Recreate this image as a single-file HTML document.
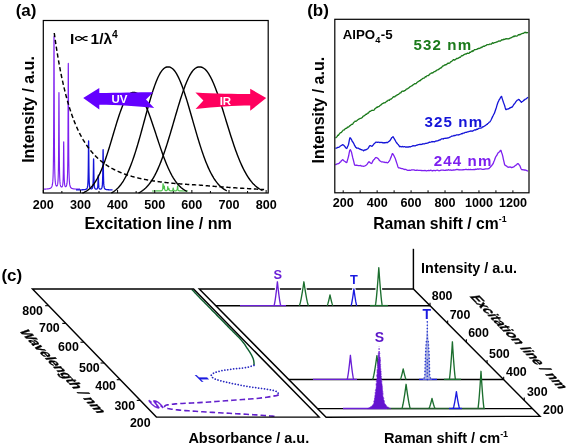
<!DOCTYPE html>
<html><head><meta charset="utf-8"><style>
html,body{margin:0;padding:0;background:#fff;width:567px;height:447px;overflow:hidden}
svg{display:block}
text{font-family:'Liberation Sans',Arial,sans-serif;font-weight:bold}
</style></head><body>
<svg width="567" height="447" viewBox="0 0 567 447"><path d="M43.80,189.13 L43.83,189.13 L43.85,189.12 L43.88,189.12 L43.90,189.12 L43.93,189.12 L43.96,189.12 L43.98,189.12 L44.01,189.12 L44.03,189.12 L44.06,189.12 L44.08,189.12 L44.11,189.12 L44.14,189.12 L44.16,189.12 L44.19,189.11 L44.21,189.11 L44.24,189.11 L44.27,189.11 L44.29,189.11 L44.32,189.11 L44.34,189.11 L44.37,189.11 L44.39,189.11 L44.42,189.11 L44.45,189.11 L44.47,189.10 L44.50,189.10 L44.52,189.10 L44.55,189.10 L44.58,189.10 L44.60,189.10 L44.63,189.10 L44.65,189.10 L44.68,189.10 L44.70,189.10 L44.73,189.10 L44.76,189.09 L44.78,189.09 L44.81,189.09 L44.83,189.09 L44.86,189.09 L44.89,189.09 L44.91,189.09 L44.94,189.09 L44.96,189.09 L44.99,189.09 L45.02,189.08 L45.04,189.08 L45.07,189.08 L45.09,189.08 L45.12,189.08 L45.14,189.08 L45.17,189.08 L45.20,189.08 L45.22,189.08 L45.25,189.07 L45.27,189.07 L45.30,189.07 L45.33,189.07 L45.35,189.07 L45.38,189.07 L45.40,189.07 L45.43,189.07 L45.45,189.06 L45.48,189.06 L45.51,189.06 L45.53,189.06 L45.56,189.06 L45.58,189.06 L45.61,189.06 L45.64,189.06 L45.66,189.05 L45.69,189.05 L45.71,189.05 L45.74,189.05 L45.77,189.05 L45.79,189.05 L45.82,189.05 L45.84,189.05 L45.87,189.04 L45.89,189.04 L45.92,189.04 L45.95,189.04 L45.97,189.04 L46.00,189.04 L46.02,189.04 L46.05,189.03 L46.08,189.03 L46.10,189.03 L46.13,189.03 L46.15,189.03 L46.18,189.03 L46.20,189.02 L46.23,189.02 L46.26,189.02 L46.28,189.02 L46.31,189.02 L46.33,189.02 L46.36,189.01 L46.39,189.01 L46.41,189.01 L46.44,189.01 L46.46,189.01 L46.49,189.01 L46.52,189.00 L46.54,189.00 L46.57,189.00 L46.59,189.00 L46.62,189.00 L46.64,189.00 L46.67,188.99 L46.70,188.99 L46.72,188.99 L46.75,188.99 L46.77,188.99 L46.80,188.98 L46.83,188.98 L46.85,188.98 L46.88,188.98 L46.90,188.98 L46.93,188.97 L46.95,188.97 L46.98,188.97 L47.01,188.97 L47.03,188.97 L47.06,188.96 L47.08,188.96 L47.11,188.96 L47.14,188.96 L47.16,188.95 L47.19,188.95 L47.21,188.95 L47.24,188.95 L47.26,188.95 L47.29,188.94 L47.32,188.94 L47.34,188.94 L47.37,188.94 L47.39,188.93 L47.42,188.93 L47.45,188.93 L47.47,188.93 L47.50,188.92 L47.52,188.92 L47.55,188.92 L47.58,188.91 L47.60,188.91 L47.63,188.91 L47.65,188.91 L47.68,188.90 L47.70,188.90 L47.73,188.90 L47.76,188.90 L47.78,188.89 L47.81,188.89 L47.83,188.89 L47.86,188.88 L47.89,188.88 L47.91,188.88 L47.94,188.87 L47.96,188.87 L47.99,188.87 L48.01,188.86 L48.04,188.86 L48.07,188.86 L48.09,188.85 L48.12,188.85 L48.14,188.85 L48.17,188.84 L48.20,188.84 L48.22,188.84 L48.25,188.83 L48.27,188.83 L48.30,188.83 L48.32,188.82 L48.35,188.82 L48.38,188.81 L48.40,188.81 L48.43,188.81 L48.45,188.80 L48.48,188.80 L48.51,188.79 L48.53,188.79 L48.56,188.79 L48.58,188.78 L48.61,188.78 L48.64,188.77 L48.66,188.77 L48.69,188.76 L48.71,188.76 L48.74,188.75 L48.76,188.75 L48.79,188.74 L48.82,188.74 L48.84,188.73 L48.87,188.73 L48.89,188.72 L48.92,188.72 L48.95,188.71 L48.97,188.71 L49.00,188.70 L49.02,188.70 L49.05,188.69 L49.07,188.69 L49.10,188.68 L49.13,188.67 L49.15,188.67 L49.18,188.66 L49.20,188.66 L49.23,188.65 L49.26,188.64 L49.28,188.64 L49.31,188.63 L49.33,188.62 L49.36,188.62 L49.39,188.61 L49.41,188.60 L49.44,188.60 L49.46,188.59 L49.49,188.58 L49.51,188.58 L49.54,188.57 L49.57,188.56 L49.59,188.55 L49.62,188.54 L49.64,188.54 L49.67,188.53 L49.70,188.52 L49.72,188.51 L49.75,188.50 L49.77,188.49 L49.80,188.49 L49.82,188.48 L49.85,188.47 L49.88,188.46 L49.90,188.45 L49.93,188.44 L49.95,188.43 L49.98,188.42 L50.01,188.41 L50.03,188.40 L50.06,188.39 L50.08,188.38 L50.11,188.37 L50.13,188.35 L50.16,188.34 L50.19,188.33 L50.21,188.32 L50.24,188.31 L50.26,188.30 L50.29,188.28 L50.32,188.27 L50.34,188.26 L50.37,188.24 L50.39,188.23 L50.42,188.22 L50.45,188.20 L50.47,188.19 L50.50,188.17 L50.52,188.16 L50.55,188.14 L50.57,188.12 L50.60,188.11 L50.63,188.09 L50.65,188.08 L50.68,188.06 L50.70,188.04 L50.73,188.02 L50.76,188.00 L50.78,187.98 L50.81,187.96 L50.83,187.94 L50.86,187.92 L50.88,187.90 L50.91,187.88 L50.94,187.86 L50.96,187.84 L50.99,187.81 L51.01,187.79 L51.04,187.77 L51.07,187.74 L51.09,187.72 L51.12,187.69 L51.14,187.66 L51.17,187.64 L51.20,187.61 L51.22,187.58 L51.25,187.55 L51.27,187.52 L51.30,187.49 L51.32,187.46 L51.35,187.42 L51.38,187.39 L51.40,187.35 L51.43,187.32 L51.45,187.28 L51.48,187.24 L51.51,187.20 L51.53,187.16 L51.56,187.12 L51.58,187.08 L51.61,187.03 L51.63,186.98 L51.66,186.94 L51.69,186.89 L51.71,186.84 L51.74,186.78 L51.76,186.73 L51.79,186.67 L51.82,186.62 L51.84,186.56 L51.87,186.49 L51.89,186.43 L51.92,186.36 L51.94,186.30 L51.97,186.22 L52.00,186.15 L52.02,186.07 L52.05,185.99 L52.07,185.91 L52.10,185.82 L52.13,185.73 L52.15,185.64 L52.18,185.54 L52.20,185.44 L52.23,185.33 L52.26,185.22 L52.28,185.11 L52.31,184.99 L52.33,184.86 L52.36,184.73 L52.38,184.60 L52.41,184.45 L52.44,184.30 L52.46,184.14 L52.49,183.98 L52.51,183.81 L52.54,183.62 L52.57,183.43 L52.59,183.23 L52.62,183.02 L52.64,182.79 L52.67,182.56 L52.69,182.31 L52.72,182.04 L52.75,181.76 L52.77,181.47 L52.80,181.15 L52.82,180.82 L52.85,180.46 L52.88,180.09 L52.90,179.68 L52.93,179.26 L52.95,178.80 L52.98,178.31 L53.01,177.78 L53.03,177.22 L53.06,176.62 L53.08,175.97 L53.11,175.27 L53.13,174.51 L53.16,173.69 L53.19,172.81 L53.21,171.84 L53.24,170.80 L53.26,169.66 L53.29,168.42 L53.32,167.06 L53.34,165.57 L53.37,163.93 L53.39,162.13 L53.42,160.15 L53.44,157.96 L53.47,155.53 L53.50,152.84 L53.52,149.84 L53.55,146.51 L53.57,142.80 L53.60,138.67 L53.63,134.05 L53.65,128.92 L53.68,123.20 L53.70,116.88 L53.73,109.90 L53.75,102.28 L53.78,94.05 L53.81,85.31 L53.83,76.23 L53.86,67.08 L53.88,58.24 L53.91,50.21 L53.94,43.51 L53.96,38.70 L53.99,36.20 L54.01,36.26 L54.04,38.88 L54.07,43.79 L54.09,50.55 L54.12,58.63 L54.14,67.49 L54.17,76.64 L54.19,85.70 L54.22,94.42 L54.25,102.61 L54.27,110.19 L54.30,117.12 L54.32,123.41 L54.35,129.09 L54.38,134.19 L54.40,138.77 L54.43,142.88 L54.45,146.56 L54.48,149.87 L54.50,152.83 L54.53,155.51 L54.56,157.91 L54.58,160.09 L54.61,162.06 L54.63,163.84 L54.66,165.46 L54.69,166.93 L54.71,168.28 L54.74,169.51 L54.76,170.63 L54.79,171.67 L54.82,172.61 L54.84,173.49 L54.87,174.29 L54.89,175.04 L54.92,175.73 L54.94,176.37 L54.97,176.96 L55.00,177.51 L55.02,178.03 L55.05,178.51 L55.07,178.95 L55.10,179.37 L55.13,179.76 L55.15,180.13 L55.18,180.47 L55.20,180.80 L55.23,181.10 L55.25,181.39 L55.28,181.65 L55.31,181.91 L55.33,182.15 L55.36,182.37 L55.38,182.58 L55.41,182.79 L55.44,182.98 L55.46,183.16 L55.49,183.33 L55.51,183.49 L55.54,183.64 L55.56,183.79 L55.59,183.92 L55.62,184.06 L55.64,184.18 L55.67,184.30 L55.69,184.41 L55.72,184.52 L55.75,184.62 L55.77,184.71 L55.80,184.80 L55.82,184.89 L55.85,184.97 L55.88,185.05 L55.90,185.13 L55.93,185.20 L55.95,185.26 L55.98,185.33 L56.00,185.39 L56.03,185.44 L56.06,185.50 L56.08,185.55 L56.11,185.60 L56.13,185.64 L56.16,185.68 L56.19,185.72 L56.21,185.76 L56.24,185.80 L56.26,185.83 L56.29,185.86 L56.31,185.89 L56.34,185.91 L56.37,185.94 L56.39,185.96 L56.42,185.98 L56.44,186.00 L56.47,186.01 L56.50,186.02 L56.52,186.04 L56.55,186.05 L56.57,186.05 L56.60,186.06 L56.63,186.06 L56.65,186.06 L56.68,186.06 L56.70,186.06 L56.73,186.06 L56.75,186.05 L56.78,186.04 L56.81,186.03 L56.83,186.02 L56.86,186.00 L56.88,185.99 L56.91,185.97 L56.94,185.95 L56.96,185.92 L56.99,185.90 L57.01,185.87 L57.04,185.84 L57.06,185.80 L57.09,185.77 L57.12,185.73 L57.14,185.68 L57.17,185.64 L57.19,185.59 L57.22,185.54 L57.25,185.48 L57.27,185.42 L57.30,185.36 L57.32,185.29 L57.35,185.22 L57.38,185.14 L57.40,185.06 L57.43,184.97 L57.45,184.88 L57.48,184.79 L57.50,184.68 L57.53,184.57 L57.56,184.46 L57.58,184.33 L57.61,184.20 L57.63,184.06 L57.66,183.91 L57.69,183.75 L57.71,183.58 L57.74,183.40 L57.76,183.21 L57.79,183.01 L57.81,182.79 L57.84,182.55 L57.87,182.30 L57.89,182.03 L57.92,181.75 L57.94,181.44 L57.97,181.11 L58.00,180.75 L58.02,180.36 L58.05,179.95 L58.07,179.50 L58.10,179.01 L58.12,178.48 L58.15,177.91 L58.18,177.29 L58.20,176.61 L58.23,175.87 L58.25,175.06 L58.28,174.17 L58.31,173.19 L58.33,172.12 L58.36,170.93 L58.38,169.62 L58.41,168.18 L58.44,166.57 L58.46,164.79 L58.49,162.80 L58.51,160.59 L58.54,158.12 L58.56,155.37 L58.59,152.31 L58.62,148.89 L58.64,145.10 L58.67,140.92 L58.69,136.32 L58.72,131.33 L58.75,125.99 L58.77,120.38 L58.80,114.64 L58.82,108.99 L58.85,103.70 L58.87,99.10 L58.90,95.53 L58.93,93.31 L58.95,92.64 L58.98,93.60 L59.00,96.08 L59.03,99.86 L59.06,104.61 L59.08,110.00 L59.11,115.69 L59.13,121.42 L59.16,127.00 L59.18,132.29 L59.21,137.22 L59.24,141.75 L59.26,145.87 L59.29,149.59 L59.31,152.95 L59.34,155.96 L59.37,158.67 L59.39,161.09 L59.42,163.27 L59.44,165.22 L59.47,166.98 L59.50,168.56 L59.52,169.99 L59.55,171.28 L59.57,172.45 L59.60,173.51 L59.62,174.48 L59.65,175.36 L59.68,176.16 L59.70,176.90 L59.73,177.57 L59.75,178.19 L59.78,178.76 L59.81,179.29 L59.83,179.78 L59.86,180.23 L59.88,180.64 L59.91,181.03 L59.93,181.39 L59.96,181.73 L59.99,182.04 L60.01,182.33 L60.04,182.60 L60.06,182.86 L60.09,183.10 L60.12,183.32 L60.14,183.53 L60.17,183.73 L60.19,183.91 L60.22,184.09 L60.25,184.26 L60.27,184.41 L60.30,184.56 L60.32,184.70 L60.35,184.83 L60.37,184.95 L60.40,185.07 L60.43,185.18 L60.45,185.29 L60.48,185.39 L60.50,185.48 L60.53,185.57 L60.56,185.66 L60.58,185.74 L60.61,185.82 L60.63,185.89 L60.66,185.96 L60.68,186.03 L60.71,186.09 L60.74,186.15 L60.76,186.21 L60.79,186.26 L60.81,186.32 L60.84,186.36 L60.87,186.41 L60.89,186.46 L60.92,186.50 L60.94,186.54 L60.97,186.58 L61.00,186.61 L61.02,186.65 L61.05,186.68 L61.07,186.71 L61.10,186.74 L61.12,186.76 L61.15,186.79 L61.18,186.81 L61.20,186.84 L61.23,186.86 L61.25,186.88 L61.28,186.89 L61.31,186.91 L61.33,186.92 L61.36,186.94 L61.38,186.95 L61.41,186.96 L61.43,186.97 L61.46,186.98 L61.49,186.99 L61.51,186.99 L61.54,187.00 L61.56,187.00 L61.59,187.00 L61.62,187.00 L61.64,187.00 L61.67,187.00 L61.69,186.99 L61.72,186.99 L61.74,186.98 L61.77,186.97 L61.80,186.96 L61.82,186.95 L61.85,186.94 L61.87,186.93 L61.90,186.91 L61.93,186.89 L61.95,186.87 L61.98,186.85 L62.00,186.83 L62.03,186.80 L62.06,186.78 L62.08,186.75 L62.11,186.72 L62.13,186.68 L62.16,186.65 L62.18,186.61 L62.21,186.56 L62.24,186.52 L62.26,186.47 L62.29,186.42 L62.31,186.37 L62.34,186.31 L62.37,186.24 L62.39,186.18 L62.42,186.11 L62.44,186.03 L62.47,185.95 L62.49,185.86 L62.52,185.77 L62.55,185.67 L62.57,185.56 L62.60,185.45 L62.62,185.32 L62.65,185.19 L62.68,185.05 L62.70,184.90 L62.73,184.74 L62.75,184.56 L62.78,184.37 L62.80,184.16 L62.83,183.94 L62.86,183.70 L62.88,183.44 L62.91,183.15 L62.93,182.84 L62.96,182.50 L62.99,182.13 L63.01,181.73 L63.04,181.28 L63.06,180.80 L63.09,180.26 L63.12,179.67 L63.14,179.01 L63.17,178.28 L63.19,177.48 L63.22,176.58 L63.24,175.59 L63.27,174.48 L63.30,173.24 L63.32,171.86 L63.35,170.32 L63.37,168.60 L63.40,166.70 L63.43,164.61 L63.45,162.32 L63.48,159.84 L63.50,157.19 L63.53,154.44 L63.55,151.65 L63.58,148.94 L63.61,146.45 L63.63,144.34 L63.66,142.79 L63.68,141.93 L63.71,141.84 L63.74,142.53 L63.76,143.93 L63.79,145.92 L63.81,148.34 L63.84,151.01 L63.87,153.79 L63.89,156.56 L63.92,159.24 L63.94,161.75 L63.97,164.09 L63.99,166.23 L64.02,168.17 L64.05,169.92 L64.07,171.49 L64.10,172.91 L64.12,174.18 L64.15,175.31 L64.18,176.33 L64.20,177.25 L64.23,178.07 L64.25,178.81 L64.28,179.48 L64.30,180.08 L64.33,180.63 L64.36,181.13 L64.38,181.58 L64.41,181.99 L64.43,182.36 L64.46,182.71 L64.49,183.02 L64.51,183.31 L64.54,183.57 L64.56,183.82 L64.59,184.04 L64.61,184.25 L64.64,184.44 L64.67,184.62 L64.69,184.78 L64.72,184.93 L64.74,185.07 L64.77,185.20 L64.80,185.32 L64.82,185.44 L64.85,185.54 L64.87,185.64 L64.90,185.73 L64.93,185.82 L64.95,185.90 L64.98,185.97 L65.00,186.04 L65.03,186.10 L65.05,186.16 L65.08,186.22 L65.11,186.27 L65.13,186.32 L65.16,186.36 L65.18,186.40 L65.21,186.44 L65.24,186.47 L65.26,186.51 L65.29,186.54 L65.31,186.56 L65.34,186.59 L65.36,186.61 L65.39,186.63 L65.42,186.65 L65.44,186.66 L65.47,186.67 L65.49,186.69 L65.52,186.69 L65.55,186.70 L65.57,186.71 L65.60,186.71 L65.62,186.71 L65.65,186.71 L65.68,186.71 L65.70,186.71 L65.73,186.70 L65.75,186.70 L65.78,186.69 L65.80,186.68 L65.83,186.67 L65.86,186.65 L65.88,186.64 L65.91,186.62 L65.93,186.60 L65.96,186.58 L65.99,186.56 L66.01,186.54 L66.04,186.51 L66.06,186.48 L66.09,186.45 L66.11,186.42 L66.14,186.39 L66.17,186.35 L66.19,186.31 L66.22,186.27 L66.24,186.23 L66.27,186.19 L66.30,186.14 L66.32,186.09 L66.35,186.03 L66.37,185.98 L66.40,185.92 L66.42,185.86 L66.45,185.79 L66.48,185.72 L66.50,185.65 L66.53,185.57 L66.55,185.49 L66.58,185.41 L66.61,185.32 L66.63,185.23 L66.66,185.13 L66.68,185.03 L66.71,184.92 L66.74,184.81 L66.76,184.69 L66.79,184.56 L66.81,184.42 L66.84,184.28 L66.86,184.13 L66.89,183.98 L66.92,183.81 L66.94,183.63 L66.97,183.45 L66.99,183.25 L67.02,183.04 L67.05,182.82 L67.07,182.59 L67.10,182.33 L67.12,182.07 L67.15,181.79 L67.17,181.48 L67.20,181.16 L67.23,180.82 L67.25,180.45 L67.28,180.05 L67.30,179.63 L67.33,179.17 L67.36,178.68 L67.38,178.16 L67.41,177.59 L67.43,176.98 L67.46,176.31 L67.49,175.59 L67.51,174.81 L67.54,173.96 L67.56,173.03 L67.59,172.02 L67.61,170.91 L67.64,169.70 L67.67,168.37 L67.69,166.90 L67.72,165.28 L67.74,163.49 L67.77,161.51 L67.80,159.31 L67.82,156.86 L67.85,154.14 L67.87,151.11 L67.90,147.73 L67.92,143.96 L67.95,139.75 L67.98,135.08 L68.00,129.90 L68.03,124.20 L68.05,117.96 L68.08,111.22 L68.11,104.05 L68.13,96.59 L68.16,89.07 L68.18,81.79 L68.21,75.16 L68.23,69.61 L68.26,65.59 L68.29,63.46 L68.31,63.44 L68.34,65.51 L68.36,69.49 L68.39,75.01 L68.42,81.62 L68.44,88.89 L68.47,96.42 L68.49,103.88 L68.52,111.07 L68.55,117.83 L68.57,124.09 L68.60,129.81 L68.62,135.01 L68.65,139.70 L68.67,143.92 L68.70,147.71 L68.73,151.11 L68.75,154.15 L68.78,156.89 L68.80,159.35 L68.83,161.56 L68.86,163.55 L68.88,165.35 L68.91,166.98 L68.93,168.46 L68.96,169.80 L68.98,171.03 L69.01,172.14 L69.04,173.16 L69.06,174.10 L69.09,174.95 L69.11,175.74 L69.14,176.47 L69.17,177.14 L69.19,177.77 L69.22,178.34 L69.24,178.87 L69.27,179.37 L69.30,179.83 L69.32,180.26 L69.35,180.67 L69.37,181.04 L69.40,181.39 L69.42,181.72 L69.45,182.03 L69.48,182.33 L69.50,182.60 L69.53,182.86 L69.55,183.10 L69.58,183.33 L69.61,183.55 L69.63,183.75 L69.66,183.95 L69.68,184.13 L69.71,184.31 L69.73,184.47 L69.76,184.63 L69.79,184.78 L69.81,184.92 L69.84,185.06 L69.86,185.19 L69.89,185.31 L69.92,185.43 L69.94,185.54 L69.97,185.65 L69.99,185.75 L70.02,185.85 L70.05,185.94 L70.07,186.03 L70.10,186.12 L70.12,186.20 L70.15,186.28 L70.17,186.36 L70.20,186.44 L70.23,186.51 L70.25,186.57 L70.28,186.64 L70.30,186.70 L70.33,186.76 L70.36,186.82 L70.38,186.88 L70.41,186.93 L70.43,186.99 L70.46,187.04 L70.48,187.09 L70.51,187.13 L70.54,187.18 L70.56,187.22 L70.59,187.27 L70.61,187.31 L70.64,187.35 L70.67,187.39 L70.69,187.43 L70.72,187.46 L70.74,187.50 L70.77,187.53 L70.79,187.57 L70.82,187.60 L70.85,187.63 L70.87,187.66 L70.90,187.69 L70.92,187.72 L70.95,187.75 L70.98,187.78 L71.00,187.80 L71.03,187.83 L71.05,187.85 L71.08,187.88 L71.11,187.90 L71.13,187.92 L71.16,187.95 L71.18,187.97 L71.21,187.99 L71.23,188.01 L71.26,188.03 L71.29,188.05 L71.31,188.07 L71.34,188.09 L71.36,188.11 L71.39,188.13 L71.42,188.14 L71.44,188.16 L71.47,188.18 L71.49,188.19 L71.52,188.21 L71.54,188.22 L71.57,188.24 L71.60,188.25 L71.62,188.27 L71.65,188.28 L71.67,188.30 L71.70,188.31 L71.73,188.32 L71.75,188.34 L71.78,188.35 L71.80,188.36 L71.83,188.37 L71.85,188.39 L71.88,188.40 L71.91,188.41 L71.93,188.42 L71.96,188.43 L71.98,188.44 L72.01,188.45 L72.04,188.46 L72.06,188.47 L72.09,188.48 L72.11,188.49 L72.14,188.50 L72.17,188.51 L72.19,188.52 L72.22,188.53 L72.24,188.54 L72.27,188.55 L72.29,188.56 L72.32,188.57 L72.35,188.57 L72.37,188.58 L72.40,188.59 L72.42,188.60 L72.45,188.61 L72.48,188.61 L72.50,188.62 L72.53,188.63 L72.55,188.64 L72.58,188.64 L72.60,188.65 L72.63,188.66 L72.66,188.66 L72.68,188.67 L72.71,188.68 L72.73,188.68 L72.76,188.69 L72.79,188.69 L72.81,188.70 L72.84,188.71 L72.86,188.71 L72.89,188.72 L72.92,188.72 L72.94,188.73 L72.97,188.73 L72.99,188.74 L73.02,188.75 L73.04,188.75 L73.07,188.76 L73.10,188.76 L73.12,188.77 L73.15,188.77 L73.17,188.78 L73.20,188.78 L73.23,188.79 L73.25,188.79 L73.28,188.79 L73.30,188.80 L73.33,188.80 L73.35,188.81 L73.38,188.81 L73.41,188.82 L73.43,188.82 L73.46,188.82 L73.48,188.83 L73.51,188.83 L73.54,188.84 L73.56,188.84 L73.59,188.84 L73.61,188.85 L73.64,188.85 L73.66,188.86 L73.69,188.86 L73.72,188.86 L73.74,188.87 L73.77,188.87 L73.79,188.87 L73.82,188.88 L73.85,188.88 L73.87,188.88 L73.90,188.89 L73.92,188.89 L73.95,188.89 L73.98,188.90 L74.00,188.90 L74.03,188.90 L74.05,188.91 L74.08,188.91 L74.10,188.91 L74.13,188.91 L74.16,188.92 L74.18,188.92 L74.21,188.92 L74.23,188.93 L74.26,188.93 L74.29,188.93 L74.31,188.93 L74.34,188.94 L74.36,188.94 L74.39,188.94 L74.41,188.94 L74.44,188.95 L74.47,188.95 L74.49,188.95 L74.52,188.95 L74.54,188.96 L74.57,188.96 L74.60,188.96 L74.62,188.96 L74.65,188.97 L74.67,188.97 L74.70,188.97 L74.73,188.97 L74.75,188.98 L74.78,188.98 L74.80,188.98 L74.83,188.98 L74.85,188.98 L74.88,188.99 L74.91,188.99 L74.93,188.99 L74.96,188.99 L74.98,188.99 L75.01,189.00 L75.04,189.00 L75.06,189.00 L75.09,189.00 L75.11,189.00 L75.14,189.01 L75.16,189.01 L75.19,189.01 L75.22,189.01 L75.24,189.01 L75.27,189.02 L75.29,189.02 L75.32,189.02 L75.35,189.02 L75.37,189.02 L75.40,189.02 L75.42,189.03 L75.45,189.03 L75.47,189.03 L75.50,189.03 L75.53,189.03 L75.55,189.03 L75.58,189.04 L75.60,189.04 L75.63,189.04 L75.66,189.04 L75.68,189.04 L75.71,189.04 L75.73,189.04 L75.76,189.05 L75.79,189.05 L75.81,189.05 L75.84,189.05 L75.86,189.05 L75.89,189.05 L75.91,189.05 L75.94,189.06 L75.97,189.06 L75.99,189.06 L76.02,189.06 L76.04,189.06 L76.07,189.06 L76.10,189.06 L76.12,189.07 L76.15,189.07 L76.17,189.07 L76.20,189.07 L76.22,189.07 L76.25,189.07 L76.28,189.07 L76.30,189.07 L76.33,189.08 L76.35,189.08 L76.38,189.08 L76.41,189.08 L76.43,189.08 L76.46,189.08 L76.48,189.08 L76.51,189.08 L76.54,189.08 L76.56,189.09 L76.59,189.09 L76.61,189.09 L76.64,189.09 L76.66,189.09 L76.69,189.09 L76.72,189.09 L76.74,189.09 L76.77,189.09 L76.79,189.10 L76.82,189.10 L76.85,189.10 L76.87,189.10 L76.90,189.10 L76.92,189.10 L76.95,189.10 L76.97,189.10 L77.00,189.10 L77.03,189.10 L77.05,189.11 L77.08,189.11 L77.10,189.11 L77.13,189.11 L77.16,189.11 L77.18,189.11 L77.21,189.11 L77.23,189.11 L77.26,189.11 L77.28,189.11 L77.31,189.11 L77.34,189.12 L77.36,189.12 L77.39,189.12 L77.41,189.12 L77.44,189.12 L77.47,189.12 L77.49,189.12 L77.52,189.12 L77.54,189.12 L77.57,189.12 L77.60,189.12 L77.62,189.12 L77.65,189.13 L77.67,189.13 L77.70,189.13 L77.72,189.13 L77.75,189.13 L77.78,189.13 L77.80,189.13 L77.83,189.13 L77.85,189.13 L77.88,189.13 L77.91,189.13 L77.93,189.13 L77.96,189.13 L77.98,189.14 L78.01,189.14 L78.03,189.14 L78.06,189.14 L78.09,189.14 L78.11,189.14 L78.14,189.14 L78.16,189.14 L78.19,189.14 L78.22,189.14 L78.24,189.14 L78.27,189.14 L78.29,189.14 L78.32,189.14 L78.35,189.15 L78.37,189.15 L78.40,189.15 L78.42,189.15 L78.45,189.15 L78.47,189.15 L78.50,189.15 L78.53,189.15 L78.55,189.15 L78.58,189.15 L78.60,189.15 L78.63,189.15 L78.66,189.15 L78.68,189.15 L78.71,189.15 L78.73,189.15 L78.76,189.16 L78.78,189.16 L78.81,189.16 L78.84,189.16 L78.86,189.16 L78.89,189.16 L78.91,189.16 L78.94,189.16 L78.97,189.16 L78.99,189.16 L79.02,189.16 L79.04,189.16 L79.07,189.16 L79.09,189.16 L79.12,189.16 L79.15,189.16 L79.17,189.16 L79.20,189.16 L79.22,189.17 L79.25,189.17 L79.28,189.17 L79.30,189.17 L79.33,189.17 L79.35,189.17 L79.38,189.17 L79.41,189.17 L79.43,189.17 L79.46,189.17 L79.48,189.17 L79.51,189.17 L79.53,189.17 L79.56,189.17 L79.59,189.17 L79.61,189.17 L79.64,189.17 L79.66,189.17 L79.69,189.17 L79.72,189.17 L79.74,189.18 L79.77,189.18 L79.79,189.18 L79.82,189.18 L79.84,189.18 L79.87,189.18 L79.90,189.18 L79.92,189.18 L79.95,189.18 L79.97,189.18 L80.00,189.18" fill="none" stroke="#7d1fef" stroke-width="1.15" stroke-linejoin="round"/>
<path d="M76.00,189.86 L76.03,189.86 L76.07,189.86 L76.10,189.86 L76.13,189.86 L76.17,189.86 L76.20,189.86 L76.23,189.86 L76.27,189.86 L76.30,189.86 L76.33,189.86 L76.36,189.86 L76.40,189.86 L76.43,189.86 L76.46,189.86 L76.50,189.86 L76.53,189.86 L76.56,189.86 L76.60,189.86 L76.63,189.86 L76.66,189.86 L76.70,189.86 L76.73,189.86 L76.76,189.86 L76.80,189.86 L76.83,189.86 L76.86,189.86 L76.90,189.86 L76.93,189.86 L76.96,189.86 L77.00,189.86 L77.03,189.86 L77.06,189.86 L77.09,189.85 L77.13,189.85 L77.16,189.85 L77.19,189.85 L77.23,189.85 L77.26,189.85 L77.29,189.85 L77.33,189.85 L77.36,189.85 L77.39,189.85 L77.43,189.85 L77.46,189.85 L77.49,189.85 L77.53,189.85 L77.56,189.85 L77.59,189.85 L77.63,189.85 L77.66,189.85 L77.69,189.85 L77.73,189.85 L77.76,189.85 L77.79,189.85 L77.83,189.85 L77.86,189.85 L77.89,189.85 L77.92,189.85 L77.96,189.85 L77.99,189.85 L78.02,189.85 L78.06,189.85 L78.09,189.85 L78.12,189.85 L78.16,189.85 L78.19,189.85 L78.22,189.85 L78.26,189.85 L78.29,189.85 L78.32,189.85 L78.36,189.85 L78.39,189.84 L78.42,189.84 L78.46,189.84 L78.49,189.84 L78.52,189.84 L78.56,189.84 L78.59,189.84 L78.62,189.84 L78.65,189.84 L78.69,189.84 L78.72,189.84 L78.75,189.84 L78.79,189.84 L78.82,189.84 L78.85,189.84 L78.89,189.84 L78.92,189.84 L78.95,189.84 L78.99,189.84 L79.02,189.84 L79.05,189.84 L79.09,189.84 L79.12,189.84 L79.15,189.84 L79.19,189.84 L79.22,189.84 L79.25,189.84 L79.28,189.84 L79.32,189.83 L79.35,189.83 L79.38,189.83 L79.42,189.83 L79.45,189.83 L79.48,189.83 L79.52,189.83 L79.55,189.83 L79.58,189.83 L79.62,189.83 L79.65,189.83 L79.68,189.83 L79.72,189.83 L79.75,189.83 L79.78,189.83 L79.82,189.83 L79.85,189.83 L79.88,189.83 L79.92,189.83 L79.95,189.83 L79.98,189.83 L80.02,189.83 L80.05,189.83 L80.08,189.82 L80.11,189.82 L80.15,189.82 L80.18,189.82 L80.21,189.82 L80.25,189.82 L80.28,189.82 L80.31,189.82 L80.35,189.82 L80.38,189.82 L80.41,189.82 L80.45,189.82 L80.48,189.82 L80.51,189.82 L80.55,189.82 L80.58,189.82 L80.61,189.82 L80.65,189.82 L80.68,189.81 L80.71,189.81 L80.75,189.81 L80.78,189.81 L80.81,189.81 L80.84,189.81 L80.88,189.81 L80.91,189.81 L80.94,189.81 L80.98,189.81 L81.01,189.81 L81.04,189.81 L81.08,189.81 L81.11,189.81 L81.14,189.81 L81.18,189.80 L81.21,189.80 L81.24,189.80 L81.28,189.80 L81.31,189.80 L81.34,189.80 L81.38,189.80 L81.41,189.80 L81.44,189.80 L81.47,189.80 L81.51,189.80 L81.54,189.80 L81.57,189.79 L81.61,189.79 L81.64,189.79 L81.67,189.79 L81.71,189.79 L81.74,189.79 L81.77,189.79 L81.81,189.79 L81.84,189.79 L81.87,189.79 L81.91,189.79 L81.94,189.78 L81.97,189.78 L82.01,189.78 L82.04,189.78 L82.07,189.78 L82.11,189.78 L82.14,189.78 L82.17,189.78 L82.20,189.78 L82.24,189.78 L82.27,189.77 L82.30,189.77 L82.34,189.77 L82.37,189.77 L82.40,189.77 L82.44,189.77 L82.47,189.77 L82.50,189.77 L82.54,189.76 L82.57,189.76 L82.60,189.76 L82.64,189.76 L82.67,189.76 L82.70,189.76 L82.74,189.76 L82.77,189.75 L82.80,189.75 L82.84,189.75 L82.87,189.75 L82.90,189.75 L82.94,189.75 L82.97,189.75 L83.00,189.74 L83.03,189.74 L83.07,189.74 L83.10,189.74 L83.13,189.74 L83.17,189.74 L83.20,189.73 L83.23,189.73 L83.27,189.73 L83.30,189.73 L83.33,189.73 L83.37,189.72 L83.40,189.72 L83.43,189.72 L83.47,189.72 L83.50,189.72 L83.53,189.71 L83.57,189.71 L83.60,189.71 L83.63,189.71 L83.67,189.70 L83.70,189.70 L83.73,189.70 L83.76,189.70 L83.80,189.70 L83.83,189.69 L83.86,189.69 L83.90,189.69 L83.93,189.68 L83.96,189.68 L84.00,189.68 L84.03,189.68 L84.06,189.67 L84.10,189.67 L84.13,189.67 L84.16,189.66 L84.20,189.66 L84.23,189.66 L84.26,189.65 L84.30,189.65 L84.33,189.65 L84.36,189.64 L84.39,189.64 L84.43,189.64 L84.46,189.63 L84.49,189.63 L84.53,189.63 L84.56,189.62 L84.59,189.62 L84.63,189.61 L84.66,189.61 L84.69,189.60 L84.73,189.60 L84.76,189.59 L84.79,189.59 L84.83,189.59 L84.86,189.58 L84.89,189.57 L84.93,189.57 L84.96,189.56 L84.99,189.56 L85.03,189.55 L85.06,189.55 L85.09,189.54 L85.12,189.53 L85.16,189.53 L85.19,189.52 L85.22,189.51 L85.26,189.51 L85.29,189.50 L85.32,189.49 L85.36,189.49 L85.39,189.48 L85.42,189.47 L85.46,189.46 L85.49,189.45 L85.52,189.44 L85.56,189.44 L85.59,189.43 L85.62,189.42 L85.66,189.41 L85.69,189.40 L85.72,189.38 L85.76,189.37 L85.79,189.36 L85.82,189.35 L85.86,189.34 L85.89,189.33 L85.92,189.31 L85.95,189.30 L85.99,189.28 L86.02,189.27 L86.05,189.25 L86.09,189.24 L86.12,189.22 L86.15,189.21 L86.19,189.19 L86.22,189.17 L86.25,189.15 L86.29,189.13 L86.32,189.11 L86.35,189.09 L86.39,189.06 L86.42,189.04 L86.45,189.02 L86.49,188.99 L86.52,188.96 L86.55,188.93 L86.59,188.90 L86.62,188.87 L86.65,188.84 L86.68,188.81 L86.72,188.77 L86.75,188.73 L86.78,188.69 L86.82,188.65 L86.85,188.61 L86.88,188.56 L86.92,188.51 L86.95,188.46 L86.98,188.40 L87.02,188.34 L87.05,188.28 L87.08,188.21 L87.12,188.14 L87.15,188.06 L87.18,187.98 L87.22,187.90 L87.25,187.81 L87.28,187.71 L87.31,187.60 L87.35,187.49 L87.38,187.36 L87.41,187.23 L87.45,187.09 L87.48,186.93 L87.51,186.76 L87.55,186.58 L87.58,186.38 L87.61,186.16 L87.65,185.92 L87.68,185.66 L87.71,185.37 L87.75,185.06 L87.78,184.70 L87.81,184.31 L87.85,183.88 L87.88,183.39 L87.91,182.85 L87.95,182.24 L87.98,181.55 L88.01,180.76 L88.05,179.88 L88.08,178.86 L88.11,177.71 L88.14,176.38 L88.18,174.86 L88.21,173.11 L88.24,171.10 L88.28,168.79 L88.31,166.16 L88.34,163.19 L88.38,159.88 L88.41,156.30 L88.44,152.56 L88.48,148.86 L88.51,145.50 L88.54,142.84 L88.58,141.24 L88.61,140.93 L88.64,141.96 L88.68,144.18 L88.71,147.27 L88.74,150.85 L88.78,154.60 L88.81,158.28 L88.84,161.71 L88.87,164.83 L88.91,167.61 L88.94,170.06 L88.97,172.20 L89.01,174.06 L89.04,175.68 L89.07,177.09 L89.11,178.32 L89.14,179.39 L89.17,180.33 L89.21,181.15 L89.24,181.88 L89.27,182.52 L89.31,183.09 L89.34,183.60 L89.37,184.05 L89.41,184.46 L89.44,184.83 L89.47,185.15 L89.50,185.45 L89.54,185.72 L89.57,185.97 L89.60,186.19 L89.64,186.40 L89.67,186.58 L89.70,186.75 L89.74,186.91 L89.77,187.06 L89.80,187.19 L89.84,187.31 L89.87,187.43 L89.90,187.53 L89.94,187.63 L89.97,187.72 L90.00,187.81 L90.04,187.88 L90.07,187.96 L90.10,188.03 L90.14,188.09 L90.17,188.15 L90.20,188.21 L90.23,188.26 L90.27,188.31 L90.30,188.35 L90.33,188.40 L90.37,188.44 L90.40,188.47 L90.43,188.51 L90.47,188.54 L90.50,188.57 L90.53,188.60 L90.57,188.63 L90.60,188.65 L90.63,188.68 L90.67,188.70 L90.70,188.72 L90.73,188.74 L90.77,188.76 L90.80,188.77 L90.83,188.79 L90.87,188.80 L90.90,188.81 L90.93,188.83 L90.97,188.84 L91.00,188.85 L91.03,188.85 L91.06,188.86 L91.10,188.87 L91.13,188.87 L91.16,188.88 L91.20,188.88 L91.23,188.88 L91.26,188.88 L91.30,188.88 L91.33,188.88 L91.36,188.88 L91.40,188.88 L91.43,188.87 L91.46,188.87 L91.50,188.86 L91.53,188.85 L91.56,188.85 L91.60,188.84 L91.63,188.83 L91.66,188.81 L91.69,188.80 L91.73,188.78 L91.76,188.77 L91.79,188.75 L91.83,188.73 L91.86,188.71 L91.89,188.69 L91.93,188.66 L91.96,188.63 L91.99,188.60 L92.03,188.57 L92.06,188.54 L92.09,188.50 L92.13,188.46 L92.16,188.42 L92.19,188.37 L92.23,188.32 L92.26,188.27 L92.29,188.21 L92.33,188.14 L92.36,188.07 L92.39,188.00 L92.42,187.92 L92.46,187.83 L92.49,187.73 L92.52,187.63 L92.56,187.51 L92.59,187.39 L92.62,187.25 L92.66,187.10 L92.69,186.93 L92.72,186.75 L92.76,186.54 L92.79,186.32 L92.82,186.07 L92.86,185.78 L92.89,185.47 L92.92,185.12 L92.96,184.72 L92.99,184.27 L93.02,183.76 L93.06,183.17 L93.09,182.51 L93.12,181.75 L93.16,180.88 L93.19,179.87 L93.22,178.72 L93.25,177.40 L93.29,175.88 L93.32,174.15 L93.35,172.21 L93.39,170.06 L93.42,167.76 L93.45,165.39 L93.49,163.10 L93.52,161.09 L93.55,159.60 L93.59,158.83 L93.62,158.91 L93.65,159.82 L93.69,161.42 L93.72,163.50 L93.75,165.82 L93.79,168.19 L93.82,170.47 L93.85,172.58 L93.89,174.49 L93.92,176.18 L93.95,177.67 L93.98,178.96 L94.02,180.09 L94.05,181.07 L94.08,181.92 L94.12,182.67 L94.15,183.32 L94.18,183.89 L94.22,184.39 L94.25,184.83 L94.28,185.23 L94.32,185.58 L94.35,185.89 L94.38,186.17 L94.42,186.41 L94.45,186.64 L94.48,186.84 L94.52,187.03 L94.55,187.19 L94.58,187.34 L94.61,187.48 L94.65,187.61 L94.68,187.72 L94.71,187.83 L94.75,187.93 L94.78,188.02 L94.81,188.10 L94.85,188.18 L94.88,188.25 L94.91,188.32 L94.95,188.38 L94.98,188.43 L95.01,188.49 L95.05,188.54 L95.08,188.58 L95.11,188.63 L95.15,188.67 L95.18,188.70 L95.21,188.74 L95.25,188.77 L95.28,188.80 L95.31,188.83 L95.34,188.86 L95.38,188.89 L95.41,188.91 L95.44,188.93 L95.48,188.95 L95.51,188.97 L95.54,188.99 L95.58,189.01 L95.61,189.02 L95.64,189.04 L95.68,189.05 L95.71,189.07 L95.74,189.08 L95.78,189.09 L95.81,189.10 L95.84,189.11 L95.88,189.12 L95.91,189.12 L95.94,189.13 L95.98,189.14 L96.01,189.14 L96.04,189.15 L96.08,189.15 L96.11,189.16 L96.14,189.16 L96.17,189.16 L96.21,189.16 L96.24,189.16 L96.27,189.16 L96.31,189.16 L96.34,189.16 L96.37,189.16 L96.41,189.15 L96.44,189.15 L96.47,189.15 L96.51,189.14 L96.54,189.13 L96.57,189.13 L96.61,189.12 L96.64,189.11 L96.67,189.10 L96.71,189.08 L96.74,189.07 L96.77,189.06 L96.81,189.04 L96.84,189.02 L96.87,189.01 L96.90,188.98 L96.94,188.96 L96.97,188.94 L97.00,188.91 L97.04,188.88 L97.07,188.85 L97.10,188.82 L97.14,188.78 L97.17,188.74 L97.20,188.69 L97.24,188.64 L97.27,188.59 L97.30,188.53 L97.34,188.46 L97.37,188.39 L97.40,188.31 L97.44,188.22 L97.47,188.12 L97.50,188.01 L97.53,187.89 L97.57,187.76 L97.60,187.61 L97.63,187.43 L97.67,187.24 L97.70,187.02 L97.73,186.77 L97.77,186.49 L97.80,186.16 L97.83,185.79 L97.87,185.36 L97.90,184.87 L97.93,184.31 L97.97,183.66 L98.00,182.92 L98.03,182.08 L98.07,181.14 L98.10,180.11 L98.13,179.02 L98.17,177.91 L98.20,176.88 L98.23,176.02 L98.27,175.43 L98.30,175.21 L98.33,175.39 L98.36,175.94 L98.40,176.78 L98.43,177.80 L98.46,178.89 L98.50,179.99 L98.53,181.03 L98.56,181.98 L98.60,182.83 L98.63,183.58 L98.66,184.24 L98.70,184.81 L98.73,185.31 L98.76,185.75 L98.80,186.12 L98.83,186.45 L98.86,186.74 L98.90,186.99 L98.93,187.21 L98.96,187.41 L99.00,187.58 L99.03,187.74 L99.06,187.88 L99.09,188.00 L99.13,188.11 L99.16,188.21 L99.19,188.30 L99.23,188.38 L99.26,188.45 L99.29,188.52 L99.33,188.58 L99.36,188.63 L99.39,188.68 L99.43,188.73 L99.46,188.77 L99.49,188.80 L99.53,188.84 L99.56,188.87 L99.59,188.90 L99.63,188.93 L99.66,188.95 L99.69,188.97 L99.72,188.99 L99.76,189.01 L99.79,189.03 L99.82,189.04 L99.86,189.06 L99.89,189.07 L99.92,189.08 L99.96,189.09 L99.99,189.10 L100.02,189.11 L100.06,189.12 L100.09,189.12 L100.12,189.13 L100.16,189.13 L100.19,189.14 L100.22,189.14 L100.26,189.14 L100.29,189.14 L100.32,189.14 L100.36,189.14 L100.39,189.14 L100.42,189.14 L100.45,189.14 L100.49,189.13 L100.52,189.13 L100.55,189.12 L100.59,189.12 L100.62,189.11 L100.65,189.10 L100.69,189.09 L100.72,189.09 L100.75,189.08 L100.79,189.07 L100.82,189.05 L100.85,189.04 L100.89,189.03 L100.92,189.01 L100.95,189.00 L100.99,188.98 L101.02,188.96 L101.05,188.94 L101.09,188.92 L101.12,188.90 L101.15,188.88 L101.19,188.86 L101.22,188.83 L101.25,188.80 L101.28,188.77 L101.32,188.74 L101.35,188.71 L101.38,188.67 L101.42,188.64 L101.45,188.60 L101.48,188.55 L101.52,188.51 L101.55,188.46 L101.58,188.41 L101.62,188.35 L101.65,188.29 L101.68,188.23 L101.72,188.16 L101.75,188.09 L101.78,188.01 L101.82,187.92 L101.85,187.83 L101.88,187.73 L101.91,187.63 L101.95,187.51 L101.98,187.39 L102.01,187.25 L102.05,187.10 L102.08,186.94 L102.11,186.76 L102.15,186.57 L102.18,186.35 L102.21,186.12 L102.25,185.86 L102.28,185.57 L102.31,185.25 L102.35,184.89 L102.38,184.49 L102.41,184.05 L102.45,183.54 L102.48,182.97 L102.51,182.33 L102.55,181.60 L102.58,180.77 L102.61,179.81 L102.64,178.72 L102.68,177.47 L102.71,176.02 L102.74,174.36 L102.78,172.46 L102.81,170.29 L102.84,167.84 L102.88,165.12 L102.91,162.16 L102.94,159.08 L102.98,156.04 L103.01,153.28 L103.04,151.10 L103.08,149.79 L103.11,149.55 L103.14,150.42 L103.18,152.27 L103.21,154.82 L103.24,157.78 L103.28,160.87 L103.31,163.90 L103.34,166.73 L103.38,169.30 L103.41,171.59 L103.44,173.61 L103.47,175.37 L103.51,176.90 L103.54,178.24 L103.57,179.40 L103.61,180.41 L103.64,181.29 L103.67,182.07 L103.71,182.75 L103.74,183.35 L103.77,183.88 L103.81,184.35 L103.84,184.77 L103.87,185.15 L103.91,185.48 L103.94,185.79 L103.97,186.06 L104.01,186.31 L104.04,186.53 L104.07,186.74 L104.11,186.93 L104.14,187.10 L104.17,187.25 L104.20,187.40 L104.24,187.53 L104.27,187.65 L104.30,187.76 L104.34,187.87 L104.37,187.97 L104.40,188.06 L104.44,188.14 L104.47,188.22 L104.50,188.29 L104.54,188.36 L104.57,188.42 L104.60,188.48 L104.64,188.54 L104.67,188.59 L104.70,188.64 L104.74,188.69 L104.77,188.74 L104.80,188.78 L104.84,188.82 L104.87,188.85 L104.90,188.89 L104.93,188.92 L104.97,188.96 L105.00,188.99 L105.03,189.02 L105.07,189.04 L105.10,189.07 L105.13,189.09 L105.17,189.12 L105.20,189.14 L105.23,189.16 L105.27,189.18 L105.30,189.20 L105.33,189.22 L105.37,189.24 L105.40,189.26 L105.43,189.27 L105.47,189.29 L105.50,189.31 L105.53,189.32 L105.56,189.34 L105.60,189.35 L105.63,189.36 L105.66,189.37 L105.70,189.39 L105.73,189.40 L105.76,189.41 L105.80,189.42 L105.83,189.43 L105.86,189.44 L105.90,189.45 L105.93,189.46 L105.96,189.47 L106.00,189.48 L106.03,189.49 L106.06,189.50 L106.10,189.50 L106.13,189.51 L106.16,189.52 L106.20,189.53 L106.23,189.53 L106.26,189.54 L106.30,189.55 L106.33,189.55 L106.36,189.56 L106.39,189.57 L106.43,189.57 L106.46,189.58 L106.49,189.58 L106.53,189.59 L106.56,189.60 L106.59,189.60 L106.63,189.61 L106.66,189.61 L106.69,189.61 L106.73,189.62 L106.76,189.62 L106.79,189.63 L106.83,189.63 L106.86,189.64 L106.89,189.64 L106.93,189.65 L106.96,189.65 L106.99,189.65 L107.03,189.66 L107.06,189.66 L107.09,189.66 L107.12,189.67 L107.16,189.67 L107.19,189.67 L107.22,189.68 L107.26,189.68 L107.29,189.68 L107.32,189.69 L107.36,189.69 L107.39,189.69 L107.42,189.69 L107.46,189.70 L107.49,189.70 L107.52,189.70 L107.56,189.71 L107.59,189.71 L107.62,189.71 L107.66,189.71 L107.69,189.71 L107.72,189.72 L107.75,189.72 L107.79,189.72 L107.82,189.72 L107.85,189.73 L107.89,189.73 L107.92,189.73 L107.95,189.73 L107.99,189.73 L108.02,189.74 L108.05,189.74 L108.09,189.74 L108.12,189.74 L108.15,189.74 L108.19,189.75 L108.22,189.75 L108.25,189.75 L108.29,189.75 L108.32,189.75 L108.35,189.75 L108.39,189.76 L108.42,189.76 L108.45,189.76 L108.48,189.76 L108.52,189.76 L108.55,189.76 L108.58,189.76 L108.62,189.77 L108.65,189.77 L108.68,189.77 L108.72,189.77 L108.75,189.77 L108.78,189.77 L108.82,189.77 L108.85,189.77 L108.88,189.78 L108.92,189.78 L108.95,189.78 L108.98,189.78 L109.02,189.78 L109.05,189.78 L109.08,189.78 L109.12,189.78 L109.15,189.79 L109.18,189.79 L109.22,189.79 L109.25,189.79 L109.28,189.79 L109.31,189.79 L109.35,189.79 L109.38,189.79 L109.41,189.79 L109.45,189.79 L109.48,189.80 L109.51,189.80 L109.55,189.80 L109.58,189.80 L109.61,189.80 L109.65,189.80 L109.68,189.80 L109.71,189.80 L109.75,189.80 L109.78,189.80 L109.81,189.80 L109.85,189.80 L109.88,189.81 L109.91,189.81 L109.94,189.81 L109.98,189.81 L110.01,189.81 L110.04,189.81 L110.08,189.81 L110.11,189.81 L110.14,189.81 L110.18,189.81 L110.21,189.81 L110.24,189.81 L110.28,189.81 L110.31,189.81 L110.34,189.82 L110.38,189.82 L110.41,189.82 L110.44,189.82 L110.48,189.82 L110.51,189.82 L110.54,189.82 L110.58,189.82 L110.61,189.82 L110.64,189.82 L110.67,189.82 L110.71,189.82 L110.74,189.82 L110.77,189.82 L110.81,189.82 L110.84,189.82 L110.87,189.82 L110.91,189.83 L110.94,189.83 L110.97,189.83 L111.01,189.83 L111.04,189.83 L111.07,189.83 L111.11,189.83 L111.14,189.83 L111.17,189.83 L111.21,189.83 L111.24,189.83 L111.27,189.83 L111.31,189.83 L111.34,189.83 L111.37,189.83 L111.41,189.83 L111.44,189.83 L111.47,189.83 L111.50,189.83 L111.54,189.83 L111.57,189.83 L111.60,189.84 L111.64,189.84 L111.67,189.84 L111.70,189.84 L111.74,189.84 L111.77,189.84 L111.80,189.84 L111.84,189.84 L111.87,189.84 L111.90,189.84 L111.94,189.84 L111.97,189.84 L112.00,189.84 L112.04,189.84 L112.07,189.84 L112.10,189.84 L112.13,189.84 L112.17,189.84 L112.20,189.84 L112.23,189.84 L112.27,189.84 L112.30,189.84 L112.33,189.84 L112.37,189.84 L112.40,189.84 L112.43,189.84 L112.47,189.84 L112.50,189.85" fill="none" stroke="#1414d8" stroke-width="1.3" stroke-linejoin="round"/>
<path d="M152.00,190.99 L152.07,190.99 L152.14,190.99 L152.22,190.99 L152.29,190.99 L152.36,190.99 L152.43,190.99 L152.50,190.99 L152.58,190.99 L152.65,190.99 L152.72,190.99 L152.79,190.99 L152.86,190.99 L152.94,190.99 L153.01,190.99 L153.08,190.99 L153.15,190.99 L153.22,190.99 L153.30,190.99 L153.37,190.99 L153.44,190.99 L153.51,190.99 L153.58,190.99 L153.66,190.99 L153.73,190.99 L153.80,190.98 L153.87,190.98 L153.94,190.98 L154.02,190.98 L154.09,190.98 L154.16,190.98 L154.23,190.98 L154.30,190.98 L154.38,190.98 L154.45,190.98 L154.52,190.98 L154.59,190.98 L154.66,190.98 L154.74,190.98 L154.81,190.98 L154.88,190.98 L154.95,190.98 L155.02,190.98 L155.10,190.98 L155.17,190.98 L155.24,190.98 L155.31,190.98 L155.38,190.98 L155.46,190.98 L155.53,190.98 L155.60,190.98 L155.67,190.98 L155.74,190.98 L155.82,190.98 L155.89,190.98 L155.96,190.98 L156.03,190.98 L156.10,190.98 L156.18,190.97 L156.25,190.97 L156.32,190.97 L156.39,190.97 L156.46,190.97 L156.54,190.97 L156.61,190.97 L156.68,190.97 L156.75,190.97 L156.82,190.97 L156.90,190.97 L156.97,190.97 L157.04,190.97 L157.11,190.97 L157.18,190.97 L157.26,190.97 L157.33,190.97 L157.40,190.97 L157.47,190.96 L157.54,190.96 L157.62,190.96 L157.69,190.96 L157.76,190.96 L157.83,190.96 L157.90,190.96 L157.98,190.96 L158.05,190.96 L158.12,190.96 L158.19,190.96 L158.26,190.95 L158.34,190.95 L158.41,190.95 L158.48,190.95 L158.55,190.95 L158.62,190.95 L158.70,190.95 L158.77,190.94 L158.84,190.94 L158.91,190.94 L158.98,190.94 L159.06,190.94 L159.13,190.94 L159.20,190.93 L159.27,190.93 L159.34,190.93 L159.42,190.93 L159.49,190.92 L159.56,190.92 L159.63,190.92 L159.70,190.92 L159.78,190.91 L159.85,190.91 L159.92,190.91 L159.99,190.90 L160.06,190.90 L160.14,190.89 L160.21,190.89 L160.28,190.88 L160.35,190.88 L160.42,190.87 L160.50,190.87 L160.57,190.86 L160.64,190.85 L160.71,190.85 L160.78,190.84 L160.86,190.83 L160.93,190.82 L161.00,190.81 L161.07,190.80 L161.14,190.78 L161.22,190.77 L161.29,190.75 L161.36,190.74 L161.43,190.72 L161.50,190.69 L161.58,190.67 L161.65,190.64 L161.72,190.61 L161.79,190.57 L161.86,190.53 L161.94,190.47 L162.01,190.41 L162.08,190.34 L162.15,190.26 L162.22,190.15 L162.30,190.03 L162.37,189.87 L162.44,189.67 L162.51,189.41 L162.58,189.08 L162.66,188.64 L162.73,188.06 L162.80,187.30 L162.87,186.35 L162.94,185.25 L163.02,184.25 L163.09,183.72 L163.16,183.95 L163.23,184.78 L163.30,185.81 L163.38,186.75 L163.45,187.49 L163.52,188.02 L163.59,188.39 L163.66,188.60 L163.74,188.70 L163.81,188.68 L163.88,188.54 L163.95,188.27 L164.02,187.86 L164.10,187.30 L164.17,186.68 L164.24,186.18 L164.31,186.06 L164.38,186.42 L164.46,187.08 L164.53,187.80 L164.60,188.43 L164.67,188.93 L164.74,189.31 L164.82,189.60 L164.89,189.82 L164.96,189.99 L165.03,190.12 L165.10,190.23 L165.18,190.31 L165.25,190.38 L165.32,190.44 L165.39,190.48 L165.46,190.52 L165.54,190.55 L165.61,190.58 L165.68,190.60 L165.75,190.61 L165.82,190.63 L165.90,190.64 L165.97,190.65 L166.04,190.65 L166.11,190.65 L166.18,190.65 L166.26,190.65 L166.33,190.64 L166.40,190.63 L166.47,190.62 L166.54,190.60 L166.62,190.58 L166.69,190.55 L166.76,190.52 L166.83,190.48 L166.90,190.42 L166.98,190.36 L167.05,190.27 L167.12,190.17 L167.19,190.03 L167.26,189.85 L167.34,189.61 L167.41,189.29 L167.48,188.88 L167.55,188.34 L167.62,187.70 L167.70,187.07 L167.77,186.66 L167.84,186.67 L167.91,187.10 L167.98,187.72 L168.06,188.32 L168.13,188.81 L168.20,189.17 L168.27,189.44 L168.34,189.61 L168.42,189.71 L168.49,189.76 L168.56,189.74 L168.63,189.66 L168.70,189.51 L168.78,189.29 L168.85,189.03 L168.92,188.79 L168.99,188.69 L169.06,188.81 L169.14,189.08 L169.21,189.41 L169.28,189.71 L169.35,189.95 L169.42,190.14 L169.50,190.28 L169.57,190.39 L169.64,190.47 L169.71,190.54 L169.78,190.59 L169.86,190.64 L169.93,190.67 L170.00,190.70 L170.07,190.72 L170.14,190.74 L170.22,190.76 L170.29,190.77 L170.36,190.79 L170.43,190.80 L170.50,190.80 L170.58,190.81 L170.65,190.82 L170.72,190.82 L170.79,190.83 L170.86,190.83 L170.94,190.83 L171.01,190.84 L171.08,190.84 L171.15,190.84 L171.22,190.84 L171.30,190.83 L171.37,190.83 L171.44,190.83 L171.51,190.82 L171.58,190.82 L171.66,190.81 L171.73,190.80 L171.80,190.79 L171.87,190.78 L171.94,190.77 L172.02,190.75 L172.09,190.73 L172.16,190.70 L172.23,190.67 L172.30,190.63 L172.38,190.58 L172.45,190.53 L172.52,190.45 L172.59,190.35 L172.66,190.22 L172.74,190.06 L172.81,189.83 L172.88,189.54 L172.95,189.16 L173.02,188.71 L173.10,188.26 L173.17,187.98 L173.24,187.99 L173.31,188.31 L173.38,188.76 L173.46,189.21 L173.53,189.58 L173.60,189.86 L173.67,190.08 L173.74,190.24 L173.82,190.36 L173.89,190.46 L173.96,190.53 L174.03,190.59 L174.10,190.64 L174.18,190.68 L174.25,190.71 L174.32,190.73 L174.39,190.75 L174.46,190.77 L174.54,190.78 L174.61,190.80 L174.68,190.81 L174.75,190.81 L174.82,190.82 L174.90,190.83 L174.97,190.83 L175.04,190.83 L175.11,190.84 L175.18,190.84 L175.26,190.84 L175.33,190.84 L175.40,190.83 L175.47,190.83 L175.54,190.83 L175.62,190.82 L175.69,190.82 L175.76,190.81 L175.83,190.80 L175.90,190.79 L175.98,190.78 L176.05,190.77 L176.12,190.75 L176.19,190.73 L176.26,190.71 L176.34,190.69 L176.41,190.66 L176.48,190.62 L176.55,190.58 L176.62,190.52 L176.70,190.46 L176.77,190.38 L176.84,190.28 L176.91,190.15 L176.98,189.99 L177.06,189.78 L177.13,189.50 L177.20,189.13 L177.27,188.65 L177.34,188.02 L177.42,187.27 L177.49,186.50 L177.56,185.96 L177.63,185.93 L177.70,186.42 L177.78,187.18 L177.85,187.95 L177.92,188.59 L177.99,189.09 L178.06,189.47 L178.14,189.76 L178.21,189.98 L178.28,190.15 L178.35,190.28 L178.42,190.38 L178.50,190.47 L178.57,190.53 L178.64,190.59 L178.71,190.64 L178.78,190.67 L178.86,190.71 L178.93,190.73 L179.00,190.76 L179.07,190.78 L179.14,190.80 L179.22,190.81 L179.29,190.83 L179.36,190.84 L179.43,190.85 L179.50,190.86 L179.58,190.87 L179.65,190.88 L179.72,190.89 L179.79,190.89 L179.86,190.90 L179.94,190.90 L180.01,190.91 L180.08,190.91 L180.15,190.92 L180.22,190.92 L180.30,190.92 L180.37,190.93 L180.44,190.93 L180.51,190.93 L180.58,190.94 L180.66,190.94 L180.73,190.94 L180.80,190.94 L180.87,190.95 L180.94,190.95 L181.02,190.95 L181.09,190.95 L181.16,190.95 L181.23,190.95 L181.30,190.96 L181.38,190.96 L181.45,190.96 L181.52,190.96 L181.59,190.96 L181.66,190.96 L181.74,190.96 L181.81,190.96 L181.88,190.97 L181.95,190.97 L182.02,190.97 L182.10,190.97 L182.17,190.97 L182.24,190.97 L182.31,190.97 L182.38,190.97 L182.46,190.97 L182.53,190.97 L182.60,190.97 L182.67,190.97 L182.74,190.97 L182.82,190.97 L182.89,190.98 L182.96,190.98 L183.03,190.98 L183.10,190.98 L183.18,190.98 L183.25,190.98 L183.32,190.98 L183.39,190.98 L183.46,190.98 L183.54,190.98 L183.61,190.98 L183.68,190.98 L183.75,190.98 L183.82,190.98 L183.90,190.98 L183.97,190.98 L184.04,190.98 L184.11,190.98 L184.18,190.98 L184.26,190.98 L184.33,190.98 L184.40,190.98 L184.47,190.98 L184.54,190.98 L184.62,190.98 L184.69,190.98 L184.76,190.98 L184.83,190.98 L184.90,190.99 L184.98,190.99 L185.05,190.99 L185.12,190.99 L185.19,190.99 L185.26,190.99 L185.34,190.99 L185.41,190.99 L185.48,190.99 L185.55,190.99 L185.62,190.99 L185.70,190.99 L185.77,190.99 L185.84,190.99 L185.91,190.99 L185.98,190.99 L186.06,190.99 L186.13,190.99 L186.20,190.99 L186.27,190.99 L186.34,190.99 L186.42,190.99 L186.49,190.99 L186.56,190.99 L186.63,190.99 L186.70,190.99 L186.78,190.99 L186.85,190.99 L186.92,190.99 L186.99,190.99 L187.06,190.99 L187.14,190.99 L187.21,190.99 L187.28,190.99 L187.35,190.99 L187.42,190.99 L187.50,190.99 L187.57,190.99 L187.64,190.99 L187.71,190.99 L187.78,190.99 L187.86,190.99 L187.93,190.99 L188.00,190.99" fill="none" stroke="#4cc24c" stroke-width="1.2" stroke-linejoin="round"/>
<path d="M82.40,193.00 L82.97,192.78 L83.54,192.55 L84.11,192.30 L84.68,192.02 L85.24,191.73 L85.81,191.42 L86.38,191.08 L86.95,190.72 L87.52,190.33 L88.09,189.92 L88.66,189.47 L89.23,189.00 L89.80,188.50 L90.36,187.97 L90.93,187.41 L91.50,186.81 L92.07,186.18 L92.64,185.51 L93.21,184.80 L93.78,184.06 L94.35,183.27 L94.92,182.45 L95.48,181.58 L96.05,180.67 L96.62,179.72 L97.19,178.73 L97.76,177.69 L98.33,176.60 L98.90,175.47 L99.47,174.30 L100.04,173.08 L100.60,171.82 L101.17,170.51 L101.74,169.16 L102.31,167.76 L102.88,166.32 L103.45,164.84 L104.02,163.31 L104.59,161.75 L105.16,160.14 L105.72,158.50 L106.29,156.82 L106.86,155.11 L107.43,153.37 L108.00,151.59 L108.57,149.79 L109.14,147.96 L109.71,146.12 L110.28,144.25 L110.84,142.36 L111.41,140.47 L111.98,138.56 L112.55,136.65 L113.12,134.73 L113.69,132.81 L114.26,130.90 L114.83,129.00 L115.40,127.10 L115.96,125.23 L116.53,123.37 L117.10,121.54 L117.67,119.73 L118.24,117.96 L118.81,116.22 L119.38,114.51 L119.95,112.86 L120.52,111.24 L121.08,109.68 L121.65,108.17 L122.22,106.71 L122.79,105.32 L123.36,103.98 L123.93,102.71 L124.50,101.51 L125.07,100.38 L125.64,99.31 L126.20,98.33 L126.77,97.41 L127.34,96.57 L127.91,95.81 L128.48,95.13 L129.05,94.53 L129.62,94.00 L130.19,93.55 L130.76,93.18 L131.32,92.88 L131.89,92.66 L132.46,92.51 L133.03,92.42 L133.60,92.40 L134.19,92.42 L134.78,92.50 L135.38,92.63 L135.97,92.83 L136.56,93.09 L137.15,93.42 L137.75,93.82 L138.34,94.29 L138.93,94.83 L139.52,95.44 L140.11,96.12 L140.71,96.87 L141.30,97.69 L141.89,98.57 L142.48,99.53 L143.08,100.54 L143.67,101.62 L144.26,102.77 L144.85,103.97 L145.44,105.23 L146.04,106.55 L146.63,107.92 L147.22,109.34 L147.81,110.80 L148.41,112.32 L149.00,113.87 L149.59,115.46 L150.18,117.09 L150.77,118.76 L151.37,120.45 L151.96,122.17 L152.55,123.91 L153.14,125.67 L153.74,127.44 L154.33,129.23 L154.92,131.03 L155.51,132.84 L156.10,134.65 L156.70,136.46 L157.29,138.26 L157.88,140.06 L158.47,141.86 L159.07,143.64 L159.66,145.40 L160.25,147.15 L160.84,148.89 L161.43,150.59 L162.03,152.28 L162.62,153.94 L163.21,155.57 L163.80,157.17 L164.40,158.74 L164.99,160.28 L165.58,161.79 L166.17,163.25 L166.76,164.69 L167.36,166.08 L167.95,167.44 L168.54,168.75 L169.13,170.03 L169.73,171.27 L170.32,172.47 L170.91,173.62 L171.50,174.74 L172.09,175.82 L172.69,176.85 L173.28,177.85 L173.87,178.80 L174.46,179.72 L175.06,180.60 L175.65,181.44 L176.24,182.24 L176.83,183.01 L177.42,183.74 L178.02,184.43 L178.61,185.09 L179.20,185.72 L179.79,186.31 L180.39,186.88 L180.98,187.41 L181.57,187.91 L182.16,188.39 L182.75,188.84 L183.35,189.26 L183.94,189.66 L184.53,190.03 L185.12,190.38 L185.72,190.71 L186.31,191.01 L186.90,191.30" fill="none" stroke="#000" stroke-width="1.4"/>
<path d="M111.30,193.00 L111.93,192.66 L112.56,192.30 L113.19,191.90 L113.82,191.49 L114.45,191.04 L115.08,190.57 L115.71,190.06 L116.34,189.52 L116.97,188.94 L117.60,188.34 L118.23,187.69 L118.86,187.01 L119.49,186.28 L120.12,185.52 L120.75,184.71 L121.38,183.86 L122.01,182.97 L122.64,182.02 L123.27,181.04 L123.90,180.00 L124.53,178.92 L125.16,177.78 L125.79,176.60 L126.42,175.36 L127.05,174.07 L127.68,172.73 L128.31,171.34 L128.94,169.89 L129.57,168.39 L130.20,166.84 L130.83,165.24 L131.46,163.58 L132.09,161.88 L132.72,160.12 L133.35,158.31 L133.98,156.45 L134.61,154.55 L135.24,152.60 L135.87,150.60 L136.50,148.57 L137.13,146.49 L137.76,144.38 L138.39,142.23 L139.02,140.04 L139.65,137.83 L140.28,135.59 L140.91,133.33 L141.54,131.04 L142.17,128.74 L142.80,126.43 L143.43,124.11 L144.06,121.78 L144.69,119.45 L145.32,117.12 L145.95,114.79 L146.58,112.48 L147.21,110.19 L147.84,107.91 L148.47,105.65 L149.10,103.43 L149.73,101.24 L150.36,99.08 L150.99,96.97 L151.62,94.90 L152.25,92.88 L152.88,90.91 L153.51,89.00 L154.14,87.15 L154.77,85.37 L155.40,83.65 L156.03,82.01 L156.66,80.44 L157.29,78.95 L157.92,77.54 L158.55,76.21 L159.18,74.97 L159.81,73.81 L160.44,72.74 L161.07,71.77 L161.70,70.88 L162.33,70.08 L162.96,69.38 L163.59,68.76 L164.22,68.24 L164.85,67.81 L165.48,67.46 L166.11,67.20 L166.74,67.03 L167.37,66.93 L168.00,66.90 L168.65,66.93 L169.31,67.02 L169.96,67.20 L170.61,67.45 L171.27,67.79 L171.92,68.22 L172.57,68.73 L173.23,69.33 L173.88,70.03 L174.53,70.81 L175.19,71.68 L175.84,72.64 L176.49,73.69 L177.15,74.83 L177.80,76.05 L178.45,77.35 L179.11,78.74 L179.76,80.20 L180.41,81.75 L181.07,83.36 L181.72,85.05 L182.37,86.80 L183.03,88.61 L183.68,90.49 L184.33,92.42 L184.99,94.41 L185.64,96.44 L186.29,98.52 L186.95,100.64 L187.60,102.79 L188.25,104.98 L188.91,107.19 L189.56,109.43 L190.21,111.69 L190.87,113.96 L191.52,116.24 L192.17,118.53 L192.83,120.82 L193.48,123.11 L194.13,125.39 L194.79,127.67 L195.44,129.93 L196.09,132.17 L196.75,134.39 L197.40,136.59 L198.05,138.77 L198.71,140.91 L199.36,143.02 L200.01,145.10 L200.67,147.14 L201.32,149.14 L201.97,151.10 L202.63,153.02 L203.28,154.89 L203.93,156.71 L204.59,158.49 L205.24,160.22 L205.89,161.90 L206.55,163.52 L207.20,165.10 L207.85,166.62 L208.51,168.10 L209.16,169.52 L209.81,170.89 L210.47,172.20 L211.12,173.47 L211.77,174.68 L212.43,175.85 L213.08,176.96 L213.73,178.03 L214.39,179.05 L215.04,180.02 L215.69,180.94 L216.35,181.82 L217.00,182.66 L217.65,183.45 L218.31,184.20 L218.96,184.91 L219.61,185.58 L220.27,186.22 L220.92,186.82 L221.57,187.38 L222.23,187.91 L222.88,188.41 L223.53,188.88 L224.19,189.31 L224.84,189.72 L225.49,190.11 L226.15,190.47 L226.80,190.80" fill="none" stroke="#000" stroke-width="1.4"/>
<path d="M138.50,193.00 L139.18,192.66 L139.86,192.30 L140.53,191.90 L141.21,191.49 L141.89,191.04 L142.57,190.57 L143.24,190.06 L143.92,189.52 L144.60,188.94 L145.28,188.34 L145.96,187.69 L146.63,187.01 L147.31,186.28 L147.99,185.52 L148.67,184.71 L149.34,183.86 L150.02,182.97 L150.70,182.02 L151.38,181.04 L152.06,180.00 L152.73,178.92 L153.41,177.78 L154.09,176.60 L154.77,175.36 L155.44,174.07 L156.12,172.73 L156.80,171.34 L157.48,169.89 L158.16,168.39 L158.83,166.84 L159.51,165.24 L160.19,163.58 L160.87,161.88 L161.54,160.12 L162.22,158.31 L162.90,156.45 L163.58,154.55 L164.26,152.60 L164.93,150.60 L165.61,148.57 L166.29,146.49 L166.97,144.38 L167.64,142.23 L168.32,140.04 L169.00,137.83 L169.68,135.59 L170.36,133.33 L171.03,131.04 L171.71,128.74 L172.39,126.43 L173.07,124.11 L173.74,121.78 L174.42,119.45 L175.10,117.12 L175.78,114.79 L176.46,112.48 L177.13,110.19 L177.81,107.91 L178.49,105.65 L179.17,103.43 L179.84,101.24 L180.52,99.08 L181.20,96.97 L181.88,94.90 L182.56,92.88 L183.23,90.91 L183.91,89.00 L184.59,87.15 L185.27,85.37 L185.94,83.65 L186.62,82.01 L187.30,80.44 L187.98,78.95 L188.66,77.54 L189.33,76.21 L190.01,74.97 L190.69,73.81 L191.37,72.74 L192.04,71.77 L192.72,70.88 L193.40,70.08 L194.08,69.38 L194.76,68.76 L195.43,68.24 L196.11,67.81 L196.79,67.46 L197.47,67.20 L198.14,67.03 L198.82,66.93 L199.50,66.90 L200.20,66.93 L200.90,67.02 L201.60,67.20 L202.30,67.45 L203.00,67.79 L203.70,68.21 L204.40,68.73 L205.10,69.33 L205.80,70.02 L206.50,70.80 L207.20,71.67 L207.90,72.63 L208.60,73.68 L209.30,74.81 L210.00,76.03 L210.70,77.33 L211.40,78.71 L212.10,80.17 L212.80,81.71 L213.50,83.32 L214.20,85.00 L214.90,86.75 L215.60,88.56 L216.30,90.43 L217.00,92.36 L217.70,94.34 L218.40,96.37 L219.10,98.44 L219.80,100.56 L220.50,102.70 L221.20,104.89 L221.90,107.10 L222.60,109.33 L223.30,111.58 L224.00,113.84 L224.70,116.12 L225.40,118.40 L226.10,120.69 L226.80,122.97 L227.50,125.25 L228.20,127.52 L228.90,129.77 L229.60,132.01 L230.30,134.23 L231.00,136.43 L231.70,138.59 L232.40,140.73 L233.10,142.84 L233.80,144.91 L234.50,146.95 L235.20,148.94 L235.90,150.90 L236.60,152.81 L237.30,154.68 L238.00,156.50 L238.70,158.27 L239.40,159.99 L240.10,161.67 L240.80,163.29 L241.50,164.86 L242.20,166.38 L242.90,167.85 L243.60,169.27 L244.30,170.63 L245.00,171.95 L245.70,173.21 L246.40,174.42 L247.10,175.58 L247.80,176.70 L248.50,177.76 L249.20,178.77 L249.90,179.74 L250.60,180.66 L251.30,181.54 L252.00,182.37 L252.70,183.17 L253.40,183.91 L254.10,184.62 L254.80,185.29 L255.50,185.93 L256.20,186.52 L256.90,187.09 L257.60,187.62 L258.30,188.11 L259.00,188.58 L259.70,189.02 L260.40,189.43 L261.10,189.81 L261.80,190.17 L262.50,190.50" fill="none" stroke="#000" stroke-width="1.4"/>
<path d="M54.26,33.00 L54.63,35.67 L55.00,38.29 L55.37,40.84 L55.74,43.35 L56.11,45.80 L56.48,48.20 L56.86,50.55 L57.23,52.85 L57.60,55.10 L57.97,57.31 L58.34,59.47 L58.71,61.58 L59.08,63.66 L59.46,65.69 L59.83,67.68 L60.20,69.62 L60.57,71.53 L60.94,73.40 L61.31,75.24 L61.68,77.03 L62.06,78.80 L62.43,80.52 L62.80,82.22 L63.17,83.87 L63.54,85.50 L63.91,87.10 L64.28,88.66 L64.66,90.20 L65.03,91.70 L65.40,93.18 L65.77,94.62 L66.14,96.04 L66.51,97.44 L66.88,98.80 L67.26,100.15 L67.63,101.46 L68.00,102.75 L68.37,104.02 L68.74,105.26 L69.11,106.49 L69.48,107.68 L69.86,108.86 L70.23,110.02 L70.60,111.15 L70.97,112.26 L71.34,113.36 L71.71,114.43 L72.08,115.49 L72.45,116.52 L72.83,117.54 L73.20,118.54 L73.57,119.52 L73.94,120.49 L74.31,121.43 L74.68,122.36 L75.05,123.28 L75.43,124.18 L75.80,125.06 L76.17,125.93 L76.54,126.78 L76.91,127.62 L77.28,128.45 L77.65,129.26 L78.03,130.05 L78.40,130.84 L78.77,131.61 L79.14,132.36 L79.51,133.11 L79.88,133.84 L80.25,134.56 L80.63,135.27 L81.00,135.96 L81.37,136.65 L81.74,137.32 L82.11,137.98 L82.48,138.63 L82.85,139.28 L83.23,139.91 L83.60,140.53 L83.97,141.14 L84.34,141.74 L84.71,142.33 L85.08,142.91 L85.45,143.48 L85.83,144.05 L86.20,144.60 L86.57,145.15 L86.94,145.69 L87.31,146.21 L87.68,146.73 L88.05,147.25 L88.43,147.75 L88.80,148.25 L89.17,148.74 L89.54,149.22 L89.91,149.69 L90.28,150.16 L90.65,150.62 L91.02,151.07 L91.40,151.52 L91.77,151.96 L92.14,152.39 L92.51,152.82 L92.88,153.24 L93.25,153.65 L93.62,154.06 L94.00,154.46 L94.37,154.86 L94.74,155.25 L95.11,155.63 L95.48,156.01 L95.85,156.38 L96.22,156.75 L96.60,157.11 L96.97,157.47 L97.34,157.82 L97.71,158.17 L98.08,158.51 L98.45,158.85 L98.82,159.18 L99.20,159.51 L99.57,159.83 L99.94,160.15 L100.31,160.46 L100.68,160.77 L101.05,161.08 L101.42,161.38 L101.80,161.68 L102.17,161.97 L102.54,162.26 L102.91,162.54 L103.28,162.82 L103.65,163.10 L104.02,163.37 L104.40,163.64 L104.77,163.91 L105.14,164.17 L105.51,164.43 L105.88,164.68 L106.25,164.93 L106.62,165.18 L107.00,165.42 L107.37,165.67 L107.74,165.90 L108.11,166.14 L108.48,166.37 L108.85,166.60 L109.22,166.83 L109.59,167.05 L109.97,167.27 L110.34,167.49 L110.71,167.70 L111.08,167.91 L111.45,168.12 L111.82,168.33 L112.19,168.53 L112.57,168.73 L112.94,168.93 L113.31,169.12 L113.68,169.32 L114.05,169.51 L114.42,169.70 L114.79,169.88 L115.17,170.07 L115.54,170.25 L115.91,170.43 L116.28,170.60 L116.65,170.78 L117.02,170.95 L117.39,171.12 L117.77,171.29 L118.14,171.45 L118.51,171.62 L118.88,171.78 L119.25,171.94 L119.62,172.10 L119.99,172.25 L120.37,172.41 L120.74,172.56 L121.11,172.71 L121.48,172.86 L121.85,173.00 L122.22,173.15 L122.59,173.29 L122.97,173.43 L123.34,173.57 L123.71,173.71 L124.08,173.85 L124.45,173.98 L124.82,174.12 L125.19,174.25 L125.57,174.38 L125.94,174.51 L126.31,174.63 L126.68,174.76 L127.05,174.88 L127.42,175.00 L127.79,175.13 L128.16,175.25 L128.54,175.36 L128.91,175.48 L129.28,175.60 L129.65,175.71 L130.02,175.82 L130.39,175.94 L130.76,176.05 L131.14,176.16 L131.51,176.26 L131.88,176.37 L132.25,176.48 L132.62,176.58 L132.99,176.68 L133.36,176.78 L133.74,176.89 L134.11,176.99 L134.48,177.08 L134.85,177.18 L135.22,177.28 L135.59,177.37 L135.96,177.47 L136.34,177.56 L136.71,177.65 L137.08,177.74 L137.45,177.83 L137.82,177.92 L138.19,178.01 L138.56,178.10 L138.94,178.18 L139.31,178.27 L139.68,178.35 L140.05,178.44 L140.42,178.52 L140.79,178.60 L141.16,178.68 L141.54,178.76 L141.91,178.84 L142.28,178.92 L142.65,179.00 L143.02,179.07 L143.39,179.15 L143.76,179.23 L144.14,179.30 L144.51,179.37 L144.88,179.45 L145.25,179.52 L145.62,179.59 L145.99,179.66 L146.36,179.73 L146.73,179.80 L147.11,179.87 L147.48,179.93 L147.85,180.00 L148.22,180.07 L148.59,180.13 L148.96,180.20 L149.33,180.26 L149.71,180.32 L150.08,180.39 L150.45,180.45 L150.82,180.51 L151.19,180.57 L151.56,180.63 L151.93,180.69 L152.31,180.75 L152.68,180.81 L153.05,180.87 L153.42,180.92 L153.79,180.98 L154.16,181.04 L154.53,181.09 L154.91,181.15 L155.28,181.20 L155.65,181.26 L156.02,181.31 L156.39,181.36 L156.76,181.41 L157.13,181.47 L157.51,181.52 L157.88,181.57 L158.25,181.62 L158.62,181.67 L158.99,181.72 L159.36,181.77 L159.73,181.82 L160.11,181.86 L160.48,181.91 L160.85,181.96 L161.22,182.00 L161.59,182.05 L161.96,182.10 L162.33,182.14 L162.71,182.19 L163.08,182.23 L163.45,182.27 L163.82,182.32 L164.19,182.36 L164.56,182.40 L164.93,182.45 L165.30,182.49 L165.68,182.53 L166.05,182.57 L166.42,182.61 L166.79,182.65 L167.16,182.69 L167.53,182.73 L167.90,182.77 L168.28,182.81 L168.65,182.85 L169.02,182.89 L169.39,182.92 L169.76,182.96 L170.13,183.00 L170.50,183.04 L170.88,183.07 L171.25,183.11 L171.62,183.14 L171.99,183.18 L172.36,183.21 L172.73,183.25 L173.10,183.28 L173.48,183.32 L173.85,183.35 L174.22,183.39 L174.59,183.42 L174.96,183.45 L175.33,183.48 L175.70,183.52 L176.08,183.55 L176.45,183.58 L176.82,183.61 L177.19,183.64 L177.56,183.67 L177.93,183.70 L178.30,183.74 L178.68,183.77 L179.05,183.80 L179.42,183.82 L179.79,183.85 L180.16,183.88 L180.53,183.91 L180.90,183.94 L181.28,183.97 L181.65,184.00 L182.02,184.03 L182.39,184.05 L182.76,184.08 L183.13,184.11 L183.50,184.13 L183.87,184.16 L184.25,184.19 L184.62,184.21 L184.99,184.24 L185.36,184.27 L185.73,184.29 L186.10,184.32 L186.47,184.34 L186.85,184.37 L187.22,184.39 L187.59,184.42 L187.96,184.44 L188.33,184.46 L188.70,184.49 L189.07,184.51 L189.45,184.53 L189.82,184.56 L190.19,184.58 L190.56,184.60 L190.93,184.63 L191.30,184.65 L191.67,184.67 L192.05,184.69 L192.42,184.72 L192.79,184.74 L193.16,184.76 L193.53,184.78 L193.90,184.80 L194.27,184.82 L194.65,184.84 L195.02,184.86 L195.39,184.88 L195.76,184.90 L196.13,184.92 L196.50,184.94 L196.87,184.96 L197.25,184.98 L197.62,185.00 L197.99,185.02 L198.36,185.04 L198.73,185.06 L199.10,185.08 L199.47,185.11 L199.85,185.14 L200.22,185.17 L200.59,185.21 L200.96,185.24 L201.33,185.27 L201.70,185.31 L202.07,185.34 L202.44,185.37 L202.82,185.40 L203.19,185.44 L203.56,185.47 L203.93,185.50 L204.30,185.53 L204.67,185.56 L205.04,185.60 L205.42,185.63 L205.79,185.66 L206.16,185.69 L206.53,185.72 L206.90,185.75 L207.27,185.78 L207.64,185.81 L208.02,185.84 L208.39,185.88 L208.76,185.91 L209.13,185.94 L209.50,185.97 L209.87,186.00 L210.24,186.03 L210.62,186.06 L210.99,186.09 L211.36,186.12 L211.73,186.14 L212.10,186.17 L212.47,186.20 L212.84,186.23 L213.22,186.26 L213.59,186.29 L213.96,186.32 L214.33,186.35 L214.70,186.38 L215.07,186.41 L215.44,186.43 L215.82,186.46 L216.19,186.49 L216.56,186.52 L216.93,186.55 L217.30,186.57 L217.67,186.60 L218.04,186.63 L218.42,186.66 L218.79,186.69 L219.16,186.71 L219.53,186.74 L219.90,186.77 L220.27,186.79 L220.64,186.82 L221.01,186.85 L221.39,186.88 L221.76,186.90 L222.13,186.93 L222.50,186.96 L222.87,186.98 L223.24,187.01 L223.61,187.04 L223.99,187.06 L224.36,187.09 L224.73,187.11 L225.10,187.14 L225.47,187.17 L225.84,187.19 L226.21,187.22 L226.59,187.24 L226.96,187.27 L227.33,187.29 L227.70,187.32 L228.07,187.35 L228.44,187.37 L228.81,187.40 L229.19,187.42 L229.56,187.45 L229.93,187.47 L230.30,187.50 L230.67,187.52 L231.04,187.55 L231.41,187.57 L231.79,187.60 L232.16,187.62 L232.53,187.65 L232.90,187.67 L233.27,187.69 L233.64,187.72 L234.01,187.74 L234.39,187.77 L234.76,187.79 L235.13,187.82 L235.50,187.84 L235.87,187.86 L236.24,187.89 L236.61,187.91 L236.99,187.94 L237.36,187.96 L237.73,187.98 L238.10,188.01 L238.47,188.03 L238.84,188.05 L239.21,188.08 L239.58,188.10 L239.96,188.12 L240.33,188.15 L240.70,188.17 L241.07,188.19 L241.44,188.22 L241.81,188.24 L242.18,188.26 L242.56,188.29 L242.93,188.31 L243.30,188.33 L243.67,188.35 L244.04,188.38 L244.41,188.40 L244.78,188.42 L245.16,188.45 L245.53,188.47 L245.90,188.49 L246.27,188.51 L246.64,188.54 L247.01,188.56 L247.38,188.58 L247.76,188.60 L248.13,188.62 L248.50,188.65 L248.87,188.67 L249.24,188.69 L249.61,188.71 L249.98,188.73 L250.36,188.76 L250.73,188.78 L251.10,188.80 L251.47,188.82 L251.84,188.84 L252.21,188.87 L252.58,188.89 L252.96,188.91 L253.33,188.93 L253.70,188.95 L254.07,188.97 L254.44,188.99 L254.81,189.02 L255.18,189.04 L255.56,189.06 L255.93,189.08 L256.30,189.10 L256.67,189.12 L257.04,189.14 L257.41,189.16 L257.78,189.19 L258.15,189.21 L258.53,189.23 L258.90,189.25 L259.27,189.27 L259.64,189.29 L260.01,189.31 L260.38,189.33 L260.75,189.35 L261.13,189.37 L261.50,189.39 L261.87,189.42 L262.24,189.44 L262.61,189.46 L262.98,189.48 L263.35,189.50 L263.73,189.52 L264.10,189.54" fill="none" stroke="#000" stroke-width="1.45" stroke-dasharray="4.3 2.6"/>
<path d="M83.2,97.9 L99.3,88 L99.3,93 C118,92.6 138,92.3 153.3,92.2 L146,99.4 L154.2,108 C138,106 118,104.9 99.3,104.7 L99.3,109.5 Z" fill="#6400ff"/>
<text x="119.5" y="103.3" font-size="11.5" fill="#fff" text-anchor="middle" style="font-family:'Liberation Sans',Arial,sans-serif;font-weight:bold">UV</text>
<path d="M195.4,92.5 C215,93.6 235,94 250.2,94 L250.2,88.7 L266.2,98.1 L250.2,110.8 L250.2,105.6 C235,105.8 215,106.9 195.6,109.1 L203.4,100.6 Z" fill="#ff005e"/>
<text x="225.4" y="104.6" font-size="11.5" fill="#fff" text-anchor="middle" style="font-family:'Liberation Sans',Arial,sans-serif;font-weight:bold">IR</text>
<rect x="43.3" y="20.5" width="224.89999999999998" height="172.5" fill="none" stroke="#000" stroke-width="1.2"/>
<line x1="43.30" y1="193.0" x2="43.30" y2="190.0" stroke="#000" stroke-width="1"/>
<line x1="61.87" y1="193.0" x2="61.87" y2="191.0" stroke="#000" stroke-width="1"/>
<line x1="80.44" y1="193.0" x2="80.44" y2="190.0" stroke="#000" stroke-width="1"/>
<line x1="99.01" y1="193.0" x2="99.01" y2="191.0" stroke="#000" stroke-width="1"/>
<line x1="117.58" y1="193.0" x2="117.58" y2="190.0" stroke="#000" stroke-width="1"/>
<line x1="136.15" y1="193.0" x2="136.15" y2="191.0" stroke="#000" stroke-width="1"/>
<line x1="154.72" y1="193.0" x2="154.72" y2="190.0" stroke="#000" stroke-width="1"/>
<line x1="173.29" y1="193.0" x2="173.29" y2="191.0" stroke="#000" stroke-width="1"/>
<line x1="191.86" y1="193.0" x2="191.86" y2="190.0" stroke="#000" stroke-width="1"/>
<line x1="210.43" y1="193.0" x2="210.43" y2="191.0" stroke="#000" stroke-width="1"/>
<line x1="229.00" y1="193.0" x2="229.00" y2="190.0" stroke="#000" stroke-width="1"/>
<line x1="247.57" y1="193.0" x2="247.57" y2="191.0" stroke="#000" stroke-width="1"/>
<line x1="266.14" y1="193.0" x2="266.14" y2="190.0" stroke="#000" stroke-width="1"/>
<text x="43.30" y="209.2" font-size="12.6" fill="#000" text-anchor="middle" style="font-family:'Liberation Sans',Arial,sans-serif;font-weight:bold">200</text>
<text x="80.44" y="209.2" font-size="12.6" fill="#000" text-anchor="middle" style="font-family:'Liberation Sans',Arial,sans-serif;font-weight:bold">300</text>
<text x="117.58" y="209.2" font-size="12.6" fill="#000" text-anchor="middle" style="font-family:'Liberation Sans',Arial,sans-serif;font-weight:bold">400</text>
<text x="154.72" y="209.2" font-size="12.6" fill="#000" text-anchor="middle" style="font-family:'Liberation Sans',Arial,sans-serif;font-weight:bold">500</text>
<text x="191.86" y="209.2" font-size="12.6" fill="#000" text-anchor="middle" style="font-family:'Liberation Sans',Arial,sans-serif;font-weight:bold">600</text>
<text x="229.00" y="209.2" font-size="12.6" fill="#000" text-anchor="middle" style="font-family:'Liberation Sans',Arial,sans-serif;font-weight:bold">700</text>
<text x="266.14" y="209.2" font-size="12.6" fill="#000" text-anchor="middle" style="font-family:'Liberation Sans',Arial,sans-serif;font-weight:bold">800</text>
<text x="158.2" y="228.8" font-size="16.2" fill="#000" text-anchor="middle" style="font-family:'Liberation Sans',Arial,sans-serif;font-weight:bold">Excitation line / nm</text>
<text transform="translate(33.7,109.5) rotate(-90)" x="0" y="0" font-size="16" text-anchor="middle" style="font-family:'Liberation Sans',Arial,sans-serif;font-weight:bold">Intensity / a.u.</text>
<text x="70.0" y="43.6" font-size="15.5" style="font-family:'Liberation Sans',Arial,sans-serif;font-weight:bold">I</text>
<text transform="translate(74.6,42.9) scale(1.04,0.78)" font-size="15" style="font-family:&quot;Liberation Sans&quot;,&quot;Noto Sans CJK JP&quot;,sans-serif;font-weight:bold">∝</text>
<text x="90.6" y="43.6" font-size="15.5" style="font-family:'Liberation Sans',Arial,sans-serif;font-weight:bold">1/λ<tspan font-size="10.3" dy="-5.8" dx="-0.2">4</tspan></text>
<text x="15.7" y="16.0" font-size="17" fill="#000" text-anchor="start" style="font-family:'Liberation Sans',Arial,sans-serif;font-weight:bold">(a)</text>
<path d="M335.40,137.82 L336.00,137.54 L336.60,137.02 L337.20,136.36 L337.80,135.26 L338.40,135.32 L339.00,134.39 L339.60,133.64 L340.20,132.93 L340.80,132.72 L341.40,132.40 L342.00,131.63 L342.60,130.91 L343.20,130.04 L343.80,129.96 L344.40,129.82 L345.00,128.93 L345.60,128.37 L346.20,128.37 L346.80,128.09 L347.40,127.15 L348.00,127.30 L348.60,126.87 L349.20,126.42 L349.80,125.57 L350.40,125.56 L351.00,124.79 L351.60,124.39 L352.20,124.35 L352.80,123.97 L353.40,122.92 L354.00,122.14 L354.60,121.62 L355.20,121.07 L355.80,121.35 L356.40,120.94 L357.00,120.47 L357.60,119.91 L358.20,119.56 L358.80,119.12 L359.40,118.98 L360.00,118.41 L360.60,118.37 L361.20,118.14 L361.80,117.84 L362.40,117.38 L363.00,116.37 L363.60,115.92 L364.20,115.91 L364.80,115.22 L365.40,114.90 L366.00,114.18 L366.60,114.23 L367.20,113.57 L367.80,113.08 L368.40,113.11 L369.00,112.20 L369.60,111.48 L370.20,111.35 L370.80,111.12 L371.40,110.49 L372.00,110.26 L372.60,110.34 L373.20,110.30 L373.80,110.14 L374.40,109.74 L375.00,108.63 L375.60,108.18 L376.20,107.86 L376.80,107.10 L377.40,107.28 L378.00,106.69 L378.60,106.71 L379.20,106.43 L379.80,105.70 L380.40,105.23 L381.00,104.92 L381.60,104.32 L382.20,103.66 L382.80,103.55 L383.40,103.12 L384.00,102.74 L384.60,102.89 L385.20,102.74 L385.80,102.14 L386.40,101.27 L387.00,101.39 L387.60,100.76 L388.20,100.09 L388.80,100.22 L389.40,100.25 L390.00,99.43 L390.60,99.12 L391.20,99.12 L391.80,98.57 L392.40,97.93 L393.00,97.24 L393.60,96.57 L394.20,96.91 L394.80,96.82 L395.40,95.95 L396.00,95.80 L396.60,95.08 L397.20,95.09 L397.80,94.53 L398.40,94.39 L399.00,93.97 L399.60,93.12 L400.20,92.99 L400.80,92.82 L401.40,91.95 L402.00,91.31 L402.60,91.04 L403.20,91.17 L403.80,91.30 L404.40,90.65 L405.00,90.54 L405.60,90.16 L406.20,89.34 L406.80,88.92 L407.40,88.92 L408.00,88.36 L408.60,87.91 L409.20,87.71 L409.80,86.85 L410.40,86.54 L411.00,86.25 L411.60,85.96 L412.20,85.75 L412.80,85.03 L413.40,84.69 L414.00,84.31 L414.60,83.57 L415.20,83.70 L415.80,83.74 L416.40,83.17 L417.00,82.54 L417.60,82.00 L418.20,81.62 L418.80,81.15 L419.40,80.63 L420.00,80.86 L420.60,80.20 L421.20,79.52 L421.80,79.44 L422.40,78.55 L423.00,78.27 L423.60,78.14 L424.20,78.15 L424.80,77.45 L425.40,76.67 L426.00,77.00 L426.60,76.02 L427.20,75.76 L427.80,75.53 L428.40,75.70 L429.00,74.97 L429.60,74.30 L430.20,73.82 L430.80,73.49 L431.40,72.90 L432.00,73.18 L432.60,72.75 L433.20,72.58 L433.80,71.85 L434.40,71.69 L435.00,71.67 L435.60,70.80 L436.20,70.90 L436.80,70.10 L437.40,69.95 L438.00,69.91 L438.60,69.23 L439.20,69.17 L439.80,68.44 L440.40,67.94 L441.00,68.00 L441.60,67.53 L442.20,66.57 L442.80,66.01 L443.40,65.94 L444.00,65.53 L444.60,64.87 L445.20,65.12 L445.80,64.58 L446.40,64.71 L447.00,64.06 L447.60,63.39 L448.20,63.13 L448.80,63.24 L449.40,63.21 L450.00,62.69 L450.60,61.95 L451.20,61.69 L451.80,61.13 L452.40,60.79 L453.00,60.10 L453.60,59.60 L454.20,60.10 L454.80,60.02 L455.40,59.29 L456.00,59.15 L456.60,58.36 L457.20,58.59 L457.80,58.34 L458.40,58.17 L459.00,57.64 L459.60,57.22 L460.20,57.24 L460.80,56.60 L461.40,55.89 L462.00,55.41 L462.60,55.83 L463.20,55.24 L463.80,54.59 L464.40,54.63 L465.00,54.07 L465.60,53.95 L466.20,54.09 L466.80,53.48 L467.40,53.22 L468.00,53.46 L468.60,53.37 L469.20,53.18 L469.80,52.12 L470.40,52.38 L471.00,51.95 L471.60,51.20 L472.20,51.54 L472.80,50.72 L473.40,51.04 L474.00,50.12 L474.60,49.58 L475.20,49.58 L475.80,49.59 L476.40,49.44 L477.00,49.47 L477.60,48.65 L478.20,48.73 L478.80,48.23 L479.40,48.49 L480.00,48.19 L480.60,47.99 L481.20,47.21 L481.80,47.49 L482.40,46.89 L483.00,46.39 L483.60,46.23 L484.20,46.40 L484.80,45.91 L485.40,45.70 L486.00,45.61 L486.60,45.09 L487.20,44.59 L487.80,44.53 L488.40,44.71 L489.00,44.66 L489.60,44.07 L490.20,44.12 L490.80,44.22 L491.40,44.04 L492.00,43.32 L492.60,42.73 L493.20,43.27 L493.80,43.16 L494.40,42.57 L495.00,42.64 L495.60,42.42 L496.20,42.27 L496.80,41.83 L497.40,41.83 L498.00,41.45 L498.60,41.16 L499.20,40.87 L499.80,41.04 L500.40,41.16 L501.00,40.55 L501.60,39.94 L502.20,39.71 L502.80,40.01 L503.40,39.67 L504.00,39.07 L504.60,39.51 L505.20,39.23 L505.80,38.63 L506.40,38.92 L507.00,38.74 L507.60,38.90 L508.20,38.87 L508.80,38.76 L509.40,38.67 L510.00,38.04 L510.60,38.06 L511.20,37.66 L511.80,37.51 L512.40,36.89 L513.00,36.89 L513.60,36.23 L514.20,36.58 L514.80,35.97 L515.40,35.95 L516.00,36.11 L516.60,36.07 L517.20,35.97 L517.80,35.38 L518.40,34.63 L519.00,35.07 L519.60,34.49 L520.20,34.64 L520.80,34.14 L521.40,33.80 L522.00,33.61 L522.60,33.41 L523.20,33.42 L523.80,33.12 L524.40,32.43 L525.00,32.56 L525.60,32.24 L526.20,32.86 L526.80,32.51 L527.40,32.55 L528.00,32.82" fill="none" stroke="#1b7a1b" stroke-width="1.3" stroke-linejoin="round"/>
<path d="M335.40,148.09 L336.00,148.22 L336.60,148.12 L337.20,147.64 L337.80,147.37 L338.40,147.35 L339.00,147.08 L339.60,146.72 L340.20,146.12 L340.80,145.78 L341.40,145.42 L342.00,145.24 L342.60,144.56 L343.20,144.91 L343.80,145.33 L344.40,145.97 L345.00,146.62 L345.60,147.80 L346.20,148.18 L346.80,148.49 L347.40,147.01 L348.00,145.65 L348.60,144.15 L349.20,140.85 L349.80,137.91 L350.40,137.94 L351.00,138.82 L351.60,139.80 L352.20,141.27 L352.80,141.96 L353.40,142.89 L354.00,143.96 L354.60,145.47 L355.20,146.42 L355.80,147.34 L356.40,147.68 L357.00,148.23 L357.60,148.04 L358.20,148.18 L358.80,148.53 L359.40,149.00 L360.00,149.01 L360.60,149.36 L361.20,149.76 L361.80,149.73 L362.40,150.04 L363.00,150.13 L363.60,150.83 L364.20,150.23 L364.80,149.92 L365.40,149.98 L366.00,149.62 L366.60,149.58 L367.20,149.08 L367.80,148.69 L368.40,147.80 L369.00,146.80 L369.60,145.77 L370.20,145.53 L370.80,145.90 L371.40,146.10 L372.00,146.25 L372.60,145.47 L373.20,145.05 L373.80,144.13 L374.40,143.44 L375.00,143.05 L375.60,142.41 L376.20,142.04 L376.80,142.26 L377.40,142.40 L378.00,142.19 L378.60,142.21 L379.20,142.52 L379.80,142.45 L380.40,142.43 L381.00,142.56 L381.60,142.34 L382.20,142.38 L382.80,142.94 L383.40,142.73 L384.00,143.05 L384.60,142.67 L385.20,142.73 L385.80,142.68 L386.40,142.36 L387.00,142.53 L387.60,142.50 L388.20,141.90 L388.80,141.36 L389.40,141.20 L390.00,140.57 L390.60,139.70 L391.20,138.58 L391.80,137.61 L392.40,137.24 L393.00,136.68 L393.60,137.70 L394.20,138.65 L394.80,139.63 L395.40,140.72 L396.00,141.84 L396.60,142.76 L397.20,143.45 L397.80,144.12 L398.40,144.75 L399.00,145.75 L399.60,146.71 L400.20,146.42 L400.80,146.72 L401.40,146.83 L402.00,146.63 L402.60,146.50 L403.20,146.96 L403.80,146.75 L404.40,146.67 L405.00,146.64 L405.60,147.18 L406.20,147.18 L406.80,146.95 L407.40,147.01 L408.00,147.06 L408.60,147.00 L409.20,146.67 L409.80,146.93 L410.40,146.89 L411.00,146.51 L411.60,146.29 L412.20,146.06 L412.80,145.72 L413.40,145.90 L414.00,145.69 L414.60,145.79 L415.20,145.90 L415.80,145.52 L416.40,145.25 L417.00,145.10 L417.60,145.04 L418.20,144.64 L418.80,144.62 L419.40,144.49 L420.00,144.22 L420.60,144.52 L421.20,144.51 L421.80,144.30 L422.40,143.84 L423.00,144.00 L423.60,143.77 L424.20,143.94 L424.80,143.80 L425.40,143.38 L426.00,143.46 L426.60,143.32 L427.20,143.02 L427.80,143.12 L428.40,142.77 L429.00,142.41 L429.60,142.09 L430.20,142.26 L430.80,142.05 L431.40,141.79 L432.00,141.52 L432.60,141.83 L433.20,141.56 L433.80,141.73 L434.40,141.75 L435.00,141.63 L435.60,141.06 L436.20,141.20 L436.80,140.95 L437.40,140.90 L438.00,140.84 L438.60,140.30 L439.20,139.99 L439.80,140.11 L440.40,139.66 L441.00,139.22 L441.60,138.87 L442.20,138.97 L442.80,138.76 L443.40,139.02 L444.00,138.41 L444.60,138.28 L445.20,138.36 L445.80,138.24 L446.40,138.25 L447.00,138.04 L447.60,138.00 L448.20,137.97 L448.80,137.79 L449.40,137.43 L450.00,137.03 L450.60,136.83 L451.20,136.43 L451.80,136.16 L452.40,136.13 L453.00,135.97 L453.60,135.77 L454.20,135.38 L454.80,135.72 L455.40,135.35 L456.00,135.19 L456.60,134.94 L457.20,134.88 L457.80,134.93 L458.40,134.99 L459.00,134.70 L459.60,134.71 L460.20,134.24 L460.80,134.00 L461.40,133.70 L462.00,133.92 L462.60,133.36 L463.20,133.07 L463.80,133.22 L464.40,132.85 L465.00,132.46 L465.60,132.40 L466.20,132.36 L466.80,132.25 L467.40,131.96 L468.00,131.82 L468.60,131.63 L469.20,131.37 L469.80,131.40 L470.40,131.14 L471.00,130.90 L471.60,131.22 L472.20,131.27 L472.80,130.86 L473.40,130.68 L474.00,130.21 L474.60,129.84 L475.20,129.89 L475.80,130.06 L476.40,129.42 L477.00,129.23 L477.60,129.25 L478.20,128.58 L478.80,128.53 L479.40,128.15 L480.00,128.18 L480.60,128.11 L481.20,128.00 L481.80,127.74 L482.40,127.00 L483.00,126.90 L483.60,126.66 L484.20,126.23 L484.80,125.82 L485.40,125.50 L486.00,125.00 L486.60,124.47 L487.20,124.33 L487.80,123.49 L488.40,123.25 L489.00,122.37 L489.60,122.05 L490.20,121.45 L490.80,120.51 L491.40,119.32 L492.00,117.88 L492.60,116.61 L493.20,115.50 L493.80,114.18 L494.40,113.28 L495.00,111.57 L495.60,109.78 L496.20,108.02 L496.80,105.88 L497.40,103.94 L498.00,102.22 L498.60,101.11 L499.20,99.68 L499.80,99.05 L500.40,97.80 L501.00,96.74 L501.60,96.41 L502.20,98.61 L502.80,100.42 L503.40,102.22 L504.00,103.88 L504.60,105.52 L505.20,107.70 L505.80,109.67 L506.40,109.56 L507.00,109.03 L507.60,109.16 L508.20,108.84 L508.80,108.77 L509.40,108.36 L510.00,107.77 L510.60,107.81 L511.20,107.24 L511.80,107.40 L512.40,106.72 L513.00,105.87 L513.60,104.80 L514.20,104.02 L514.80,103.52 L515.40,102.47 L516.00,101.56 L516.60,100.89 L517.20,100.24 L517.80,99.97 L518.40,99.35 L519.00,99.51 L519.60,100.23 L520.20,100.77 L520.80,101.63 L521.40,102.40 L522.00,101.61 L522.60,101.35 L523.20,100.96 L523.80,100.21 L524.40,100.05 L525.00,99.25 L525.60,99.02 L526.20,98.82 L526.80,98.31 L527.40,97.84 L528.00,97.34" fill="none" stroke="#1414d8" stroke-width="1.3" stroke-linejoin="round"/>
<path d="M335.40,164.95 L336.00,164.41 L336.60,164.13 L337.20,163.79 L337.80,163.75 L338.40,163.60 L339.00,163.42 L339.60,162.54 L340.20,162.16 L340.80,161.69 L341.40,160.65 L342.00,160.16 L342.60,159.69 L343.20,160.00 L343.80,160.59 L344.40,161.25 L345.00,161.49 L345.60,161.91 L346.20,162.43 L346.80,162.54 L347.40,160.37 L348.00,158.32 L348.60,156.02 L349.20,152.93 L349.80,150.19 L350.40,149.68 L351.00,151.09 L351.60,152.57 L352.20,155.32 L352.80,157.96 L353.40,160.13 L354.00,162.68 L354.60,165.14 L355.20,165.23 L355.80,165.44 L356.40,165.09 L357.00,165.43 L357.60,165.37 L358.20,165.61 L358.80,165.64 L359.40,165.56 L360.00,165.65 L360.60,165.44 L361.20,165.91 L361.80,166.14 L362.40,166.16 L363.00,166.20 L363.60,166.31 L364.20,166.23 L364.80,165.99 L365.40,165.56 L366.00,165.26 L366.60,164.76 L367.20,164.16 L367.80,163.14 L368.40,162.41 L369.00,161.71 L369.60,162.09 L370.20,162.77 L370.80,163.16 L371.40,163.53 L372.00,163.03 L372.60,161.62 L373.20,160.37 L373.80,159.81 L374.40,159.24 L375.00,158.43 L375.60,157.68 L376.20,157.50 L376.80,157.74 L377.40,158.12 L378.00,158.57 L378.60,159.16 L379.20,160.23 L379.80,160.80 L380.40,161.15 L381.00,161.52 L381.60,161.87 L382.20,161.85 L382.80,161.95 L383.40,162.14 L384.00,162.16 L384.60,162.24 L385.20,162.55 L385.80,162.43 L386.40,162.40 L387.00,162.80 L387.60,162.73 L388.20,162.49 L388.80,161.53 L389.40,160.88 L390.00,159.73 L390.60,158.12 L391.20,156.87 L391.80,155.09 L392.40,153.61 L393.00,154.09 L393.60,155.06 L394.20,156.29 L394.80,157.50 L395.40,158.85 L396.00,160.81 L396.60,162.63 L397.20,164.39 L397.80,166.39 L398.40,167.83 L399.00,167.80 L399.60,167.81 L400.20,168.18 L400.80,168.44 L401.40,168.50 L402.00,168.68 L402.60,168.69 L403.20,169.01 L403.80,169.16 L404.40,169.49 L405.00,169.40 L405.60,169.30 L406.20,169.82 L406.80,169.99 L407.40,170.23 L408.00,170.28 L408.60,170.33 L409.20,170.11 L409.80,170.31 L410.40,170.27 L411.00,170.13 L411.60,169.92 L412.20,169.78 L412.80,169.80 L413.40,169.87 L414.00,169.92 L414.60,170.13 L415.20,170.44 L415.80,170.36 L416.40,170.39 L417.00,170.02 L417.60,170.26 L418.20,170.28 L418.80,170.45 L419.40,170.28 L420.00,170.38 L420.60,170.36 L421.20,170.52 L421.80,170.40 L422.40,170.58 L423.00,170.70 L423.60,170.57 L424.20,170.49 L424.80,170.58 L425.40,170.52 L426.00,170.77 L426.60,170.88 L427.20,170.68 L427.80,170.70 L428.40,170.37 L429.00,170.69 L429.60,170.68 L430.20,170.33 L430.80,170.15 L431.40,170.57 L432.00,170.75 L432.60,170.75 L433.20,170.62 L433.80,170.43 L434.40,170.47 L435.00,170.74 L435.60,170.70 L436.20,170.31 L436.80,170.21 L437.40,170.08 L438.00,170.47 L438.60,170.64 L439.20,170.77 L439.80,170.52 L440.40,170.32 L441.00,170.06 L441.60,170.04 L442.20,170.07 L442.80,170.10 L443.40,170.08 L444.00,170.29 L444.60,170.46 L445.20,170.25 L445.80,170.40 L446.40,170.15 L447.00,170.00 L447.60,170.24 L448.20,169.92 L448.80,169.74 L449.40,170.19 L450.00,170.10 L450.60,170.00 L451.20,170.16 L451.80,170.31 L452.40,170.05 L453.00,170.18 L453.60,169.83 L454.20,170.10 L454.80,169.94 L455.40,169.83 L456.00,169.55 L456.60,169.43 L457.20,169.55 L457.80,169.44 L458.40,169.70 L459.00,170.02 L459.60,169.75 L460.20,169.88 L460.80,169.84 L461.40,169.82 L462.00,169.90 L462.60,169.76 L463.20,169.88 L463.80,169.53 L464.40,169.66 L465.00,169.63 L465.60,169.40 L466.20,169.30 L466.80,169.67 L467.40,169.65 L468.00,169.56 L468.60,169.50 L469.20,169.67 L469.80,169.62 L470.40,169.33 L471.00,169.61 L471.60,169.69 L472.20,169.67 L472.80,169.62 L473.40,169.56 L474.00,169.31 L474.60,169.56 L475.20,169.52 L475.80,169.17 L476.40,169.36 L477.00,169.22 L477.60,168.92 L478.20,169.26 L478.80,169.02 L479.40,169.01 L480.00,168.80 L480.60,168.94 L481.20,169.01 L481.80,169.21 L482.40,169.38 L483.00,169.41 L483.60,169.29 L484.20,169.05 L484.80,169.25 L485.40,168.91 L486.00,168.79 L486.60,168.86 L487.20,168.78 L487.80,168.84 L488.40,168.59 L489.00,168.54 L489.60,167.87 L490.20,167.28 L490.80,166.50 L491.40,166.07 L492.00,165.14 L492.60,164.26 L493.20,163.48 L493.80,161.73 L494.40,160.45 L495.00,158.84 L495.60,157.02 L496.20,156.18 L496.80,155.41 L497.40,154.09 L498.00,153.05 L498.60,152.41 L499.20,152.01 L499.80,151.51 L500.40,150.39 L501.00,150.50 L501.60,152.49 L502.20,154.14 L502.80,156.43 L503.40,159.29 L504.00,161.80 L504.60,164.49 L505.20,165.30 L505.80,165.59 L506.40,165.96 L507.00,166.39 L507.60,166.91 L508.20,167.34 L508.80,167.00 L509.40,167.19 L510.00,166.95 L510.60,167.19 L511.20,167.50 L511.80,167.50 L512.40,167.38 L513.00,167.21 L513.60,166.83 L514.20,166.57 L514.80,166.01 L515.40,165.39 L516.00,165.11 L516.60,164.68 L517.20,163.99 L517.80,163.54 L518.40,163.84 L519.00,164.72 L519.60,165.22 L520.20,166.54 L520.80,168.18 L521.40,169.32 L522.00,169.79 L522.60,169.59 L523.20,169.74 L523.80,169.98 L524.40,170.01 L525.00,169.99 L525.60,170.10 L526.20,170.30 L526.80,170.64 L527.40,170.81 L528.00,171.01" fill="none" stroke="#7d1fef" stroke-width="1.3" stroke-linejoin="round"/>
<rect x="334.8" y="19.3" width="194.2" height="173.5" fill="none" stroke="#000" stroke-width="1.2"/>
<line x1="343.20" y1="192.8" x2="343.20" y2="190.3" stroke="#000" stroke-width="1"/>
<line x1="360.17" y1="192.8" x2="360.17" y2="190.3" stroke="#000" stroke-width="1"/>
<line x1="377.14" y1="192.8" x2="377.14" y2="190.3" stroke="#000" stroke-width="1"/>
<line x1="394.11" y1="192.8" x2="394.11" y2="190.3" stroke="#000" stroke-width="1"/>
<line x1="411.08" y1="192.8" x2="411.08" y2="190.3" stroke="#000" stroke-width="1"/>
<line x1="428.05" y1="192.8" x2="428.05" y2="190.3" stroke="#000" stroke-width="1"/>
<line x1="445.02" y1="192.8" x2="445.02" y2="190.3" stroke="#000" stroke-width="1"/>
<line x1="461.99" y1="192.8" x2="461.99" y2="190.3" stroke="#000" stroke-width="1"/>
<line x1="478.96" y1="192.8" x2="478.96" y2="190.3" stroke="#000" stroke-width="1"/>
<line x1="495.93" y1="192.8" x2="495.93" y2="190.3" stroke="#000" stroke-width="1"/>
<line x1="512.90" y1="192.8" x2="512.90" y2="190.3" stroke="#000" stroke-width="1"/>
<text x="343.20" y="207.2" font-size="12.6" fill="#000" text-anchor="middle" style="font-family:'Liberation Sans',Arial,sans-serif;font-weight:bold">200</text>
<text x="377.14" y="207.2" font-size="12.6" fill="#000" text-anchor="middle" style="font-family:'Liberation Sans',Arial,sans-serif;font-weight:bold">400</text>
<text x="411.08" y="207.2" font-size="12.6" fill="#000" text-anchor="middle" style="font-family:'Liberation Sans',Arial,sans-serif;font-weight:bold">600</text>
<text x="445.02" y="207.2" font-size="12.6" fill="#000" text-anchor="middle" style="font-family:'Liberation Sans',Arial,sans-serif;font-weight:bold">800</text>
<text x="478.96" y="207.2" font-size="12.6" fill="#000" text-anchor="middle" style="font-family:'Liberation Sans',Arial,sans-serif;font-weight:bold">1000</text>
<text x="512.90" y="207.2" font-size="12.6" fill="#000" text-anchor="middle" style="font-family:'Liberation Sans',Arial,sans-serif;font-weight:bold">1200</text>
<text x="373.2" y="229" font-size="15.7" style="font-family:'Liberation Sans',Arial,sans-serif;font-weight:bold">Raman shift / cm<tspan font-size="8.8" dy="-7">-1</tspan></text>
<text transform="translate(324.2,110.2) rotate(-90)" x="0" y="0" font-size="16" text-anchor="middle" style="font-family:'Liberation Sans',Arial,sans-serif;font-weight:bold">Intensity / a.u.</text>
<text x="342.7" y="39.3" font-size="13.3" style="font-family:'Liberation Sans',Arial,sans-serif;font-weight:bold">AlPO<tspan font-size="9.2" dy="3.6">4</tspan><tspan dy="-3.6" dx="0.4">-5</tspan></text>
<text x="307.2" y="15.7" font-size="17" fill="#000" text-anchor="start" style="font-family:'Liberation Sans',Arial,sans-serif;font-weight:bold">(b)</text>
<text x="413.6" y="50.0" font-size="15.1" letter-spacing="1.1" fill="#1b7a1b" style="font-family:'Liberation Sans',Arial,sans-serif;font-weight:bold">532 nm</text>
<text x="424.6" y="126.9" font-size="15.1" letter-spacing="1.1" fill="#1414d8" style="font-family:'Liberation Sans',Arial,sans-serif;font-weight:bold">325 nm</text>
<text x="433.8" y="165.8" font-size="15.1" letter-spacing="1.1" fill="#7d1fef" style="font-family:'Liberation Sans',Arial,sans-serif;font-weight:bold">244 nm</text>
<text x="1.4" y="281.1" font-size="17" fill="#000" text-anchor="start" style="font-family:'Liberation Sans',Arial,sans-serif;font-weight:bold">(c)</text>
<path d="M191.80,289.40 L192.38,290.02 L193.17,290.85 L194.10,291.84 L195.14,292.93 L196.22,294.08 L197.31,295.22 L198.35,296.32 L199.30,297.30 L200.15,298.17 L200.94,298.98 L201.70,299.75 L202.45,300.51 L203.22,301.29 L204.04,302.11 L204.92,303.01 L205.90,304.00 L206.98,305.10 L208.14,306.29 L209.37,307.54 L210.64,308.84 L211.94,310.16 L213.25,311.50 L214.54,312.81 L215.80,314.10 L217.05,315.38 L218.32,316.67 L219.60,317.98 L220.88,319.28 L222.13,320.57 L223.37,321.82 L224.56,323.04 L225.70,324.20 L226.79,325.31 L227.85,326.38 L228.87,327.42 L229.86,328.42 L230.83,329.39 L231.77,330.35 L232.69,331.28 L233.60,332.20 L234.50,333.10 L235.38,333.99 L236.25,334.86 L237.09,335.70 L237.91,336.52 L238.68,337.31 L239.42,338.07 L240.10,338.80 L240.73,339.49 L241.30,340.14 L241.84,340.76 L242.33,341.35 L242.80,341.92 L243.24,342.48 L243.67,343.04 L244.10,343.60 L244.51,344.16 L244.89,344.71 L245.26,345.25 L245.60,345.78 L245.93,346.30 L246.26,346.81 L246.58,347.31 L246.90,347.80 L247.22,348.28 L247.54,348.75 L247.85,349.21 L248.15,349.66 L248.45,350.10 L248.74,350.54 L249.02,350.97 L249.30,351.40 L249.57,351.82 L249.83,352.22 L250.08,352.61 L250.33,353.00 L250.57,353.40 L250.81,353.80 L251.05,354.24 L251.30,354.70 L251.56,355.20 L251.83,355.73 L252.11,356.29 L252.38,356.86 L252.65,357.44 L252.89,358.01 L253.11,358.57 L253.30,359.10 L253.45,359.62 L253.58,360.15 L253.69,360.68 L253.78,361.20 L253.85,361.70 L253.90,362.17 L253.95,362.61 L254.00,363.00 L254.03,363.35 L254.05,363.68 L254.05,363.98 L254.04,364.24 L254.03,364.48 L254.02,364.69 L254.00,364.86 L254.00,365.00" fill="none" stroke="#0f5f30" stroke-width="1.45"/>
<path d="M254.00,365.40 L253.40,365.57 L252.64,365.81 L251.75,366.09 L250.72,366.41 L249.60,366.73 L248.39,367.05 L247.12,367.34 L245.80,367.60 L244.39,367.82 L242.85,368.01 L241.22,368.19 L239.51,368.36 L237.77,368.52 L236.02,368.70 L234.28,368.89 L232.60,369.10 L230.90,369.33 L229.14,369.58 L227.35,369.83 L225.57,370.09 L223.85,370.36 L222.22,370.64 L220.72,370.92 L219.40,371.20 L218.24,371.48 L217.21,371.77 L216.29,372.06 L215.47,372.36 L214.75,372.66 L214.10,372.97 L213.52,373.28 L213.00,373.60 L212.52,373.92 L212.10,374.24 L211.75,374.56 L211.47,374.89 L211.28,375.23 L211.20,375.58 L211.24,375.93 L211.40,376.30 L211.66,376.68 L211.99,377.07 L212.42,377.46 L212.96,377.87 L213.63,378.28 L214.47,378.71 L215.48,379.15 L216.70,379.60 L218.16,380.07 L219.87,380.56 L221.77,381.08 L223.82,381.59 L225.98,382.11 L228.19,382.63 L230.42,383.12 L232.60,383.60 L234.79,384.06 L237.04,384.51 L239.35,384.95 L241.69,385.38 L244.05,385.80 L246.41,386.21 L248.77,386.61 L251.10,387.00 L253.49,387.38 L255.98,387.74 L258.52,388.09 L261.03,388.43 L263.46,388.76 L265.74,389.08 L267.81,389.40 L269.60,389.70 L271.12,389.99 L272.42,390.26 L273.54,390.53 L274.49,390.78 L275.31,391.03 L276.02,391.28 L276.64,391.54 L277.20,391.80 L277.65,392.09 L277.94,392.39 L278.10,392.71 L278.18,393.03 L278.19,393.33 L278.17,393.60 L278.17,393.83 L278.20,394.00" fill="none" stroke="#2828c0" stroke-width="1.75" stroke-dasharray="0.01 2.95" stroke-linecap="round"/>
<path d="M278.20,394.50 L278.15,394.57 L278.20,394.66 L278.26,394.77 L278.27,394.89 L278.15,395.03 L277.82,395.19 L277.19,395.38 L276.20,395.60 L274.84,395.86 L273.18,396.16 L271.27,396.49 L269.12,396.84 L266.79,397.20 L264.30,397.55 L261.69,397.89 L259.00,398.20 L256.14,398.49 L253.05,398.76 L249.78,399.03 L246.38,399.29 L242.91,399.55 L239.42,399.80 L235.97,400.05 L232.60,400.30 L229.29,400.55 L225.98,400.80 L222.67,401.05 L219.35,401.29 L216.03,401.53 L212.72,401.76 L209.41,401.99 L206.10,402.20 L202.70,402.40 L199.16,402.59 L195.57,402.77 L192.01,402.94 L188.56,403.10 L185.30,403.27 L182.32,403.43 L179.70,403.60 L177.43,403.76 L175.43,403.92 L173.68,404.08 L172.13,404.23 L170.77,404.39 L169.56,404.55 L168.48,404.72 L167.50,404.90 L166.66,405.09 L166.00,405.30 L165.50,405.51 L165.14,405.72 L164.89,405.94 L164.73,406.17 L164.65,406.38 L164.60,406.60 L164.58,406.81 L164.59,407.02 L164.66,407.23 L164.82,407.44 L165.11,407.66 L165.55,407.87 L166.17,408.08 L167.00,408.30 L168.00,408.52 L169.13,408.74 L170.41,408.96 L171.85,409.19 L173.48,409.41 L175.32,409.64 L177.39,409.87 L179.70,410.10 L182.34,410.34 L185.33,410.58 L188.59,410.82 L192.04,411.07 L195.59,411.31 L199.17,411.55 L202.70,411.78 L206.10,412.00 L209.41,412.21 L212.72,412.40 L216.03,412.59 L219.35,412.77 L222.67,412.95 L225.98,413.13 L229.29,413.31 L232.60,413.50 L235.98,413.70 L239.45,413.90 L242.96,414.11 L246.46,414.32 L249.87,414.52 L253.13,414.73 L256.20,414.92 L259.00,415.10 L261.61,415.28 L264.11,415.46 L266.46,415.63 L268.65,415.80 L270.63,415.96 L272.37,416.09 L273.84,416.21 L275.00,416.30" fill="none" stroke="#6220cc" stroke-width="1.6" stroke-dasharray="5.5 3"/>
<polygon points="32.5,289.0 193.6,289.0 319.1,417.1 156.4,417.1" fill="none" stroke="#000" stroke-width="1.45" stroke-linejoin="miter"/>
<line x1="45.15" y1="305.70" x2="48.65" y2="305.70" stroke="#000" stroke-width="1.1"/>
<text x="43.0" y="315.2" font-size="12.4" fill="#000" text-anchor="end" style="font-family:'Liberation Sans',Arial,sans-serif;font-weight:bold">800</text>
<line x1="62.27" y1="323.40" x2="65.77" y2="323.40" stroke="#000" stroke-width="1.1"/>
<text x="59.7" y="332.0" font-size="12.4" fill="#000" text-anchor="end" style="font-family:'Liberation Sans',Arial,sans-serif;font-weight:bold">700</text>
<line x1="80.46" y1="342.20" x2="83.96" y2="342.20" stroke="#000" stroke-width="1.1"/>
<text x="78.8" y="350.9" font-size="12.4" fill="#000" text-anchor="end" style="font-family:'Liberation Sans',Arial,sans-serif;font-weight:bold">600</text>
<line x1="100.57" y1="363.00" x2="104.07" y2="363.00" stroke="#000" stroke-width="1.1"/>
<text x="99.7" y="372.2" font-size="12.4" fill="#000" text-anchor="end" style="font-family:'Liberation Sans',Arial,sans-serif;font-weight:bold">500</text>
<line x1="116.73" y1="379.70" x2="120.23" y2="379.70" stroke="#000" stroke-width="1.1"/>
<text x="116.0" y="389.7" font-size="12.4" fill="#000" text-anchor="end" style="font-family:'Liberation Sans',Arial,sans-serif;font-weight:bold">400</text>
<line x1="136.75" y1="400.40" x2="140.25" y2="400.40" stroke="#000" stroke-width="1.1"/>
<text x="135.1" y="409.8" font-size="12.4" fill="#000" text-anchor="end" style="font-family:'Liberation Sans',Arial,sans-serif;font-weight:bold">300</text>
<text x="150.6" y="427.2" font-size="12.4" fill="#000" text-anchor="end" style="font-family:'Liberation Sans',Arial,sans-serif;font-weight:bold">200</text>
<text transform="matrix(0.685,0.72,-0.98,0.1,18.5,330.5)" font-size="14.6" stroke="#000" stroke-width="0.4" style="font-family:'Liberation Sans',Arial,sans-serif;font-weight:bold">Wavelength / nm</text>
<text transform="matrix(-0.707,-0.707,0.85,0,211.5,382)" font-size="16.5" fill="#1a1ae0" stroke="#1a1ae0" stroke-width="0.3" style="font-family:'Liberation Sans',Arial,sans-serif;font-weight:bold">T</text>
<text transform="matrix(0.95,0.95,-0.94,0,146.5,399.5)" font-size="15" fill="#6a1fd6" stroke="#6a1fd6" stroke-width="0.3" style="font-family:'Liberation Sans',Arial,sans-serif;font-weight:bold">S</text>
<text x="188.4" y="443.0" font-size="14.5" fill="#000" text-anchor="start" style="font-family:'Liberation Sans',Arial,sans-serif;font-weight:bold">Absorbance / a.u.</text>
<polygon points="199.3,289.0 413.4,289.0 540.0,416.2 326.1,417.3" fill="none" stroke="#000" stroke-width="1.45"/>
<line x1="413.4" y1="248.8" x2="413.4" y2="289.0" stroke="#000" stroke-width="1.45"/>
<path d="M274.00,305.70 L274.23,305.08 L274.45,304.13 L274.68,302.98 L274.91,301.69 L275.13,300.28 L275.36,298.76 L275.59,297.16 L275.81,295.47 L276.04,293.71 L276.27,291.87 L276.49,289.98 L276.72,288.02 L276.95,286.00 L277.17,283.93 L277.40,281.80 L277.63,283.93 L277.85,286.00 L278.08,288.02 L278.31,289.98 L278.53,291.87 L278.76,293.71 L278.99,295.47 L279.21,297.16 L279.44,298.76 L279.67,300.28 L279.89,301.69 L280.12,302.98 L280.35,304.13 L280.57,305.08 L280.80,305.70 Z" fill="#fff" stroke="#fff" stroke-width="3.5" stroke-linejoin="round"/>
<path d="M299.30,305.70 L299.61,305.08 L299.91,304.13 L300.22,302.98 L300.53,301.69 L300.83,300.28 L301.14,298.76 L301.45,297.16 L301.75,295.47 L302.06,293.71 L302.37,291.87 L302.67,289.98 L302.98,288.02 L303.29,286.00 L303.59,283.93 L303.90,281.80 L304.21,283.93 L304.51,286.00 L304.82,288.02 L305.13,289.98 L305.43,291.87 L305.74,293.71 L306.05,295.47 L306.35,297.16 L306.66,298.76 L306.97,300.28 L307.27,301.69 L307.58,302.98 L307.89,304.13 L308.19,305.08 L308.50,305.70 Z" fill="#fff" stroke="#fff" stroke-width="3.5" stroke-linejoin="round"/>
<path d="M327.00,305.70 L327.20,305.42 L327.40,304.99 L327.60,304.47 L327.80,303.89 L328.00,303.25 L328.20,302.57 L328.40,301.84 L328.60,301.08 L328.80,300.28 L329.00,299.45 L329.20,298.59 L329.40,297.71 L329.60,296.80 L329.80,295.86 L330.00,294.90 L330.20,295.86 L330.40,296.80 L330.60,297.71 L330.80,298.59 L331.00,299.45 L331.20,300.28 L331.40,301.08 L331.60,301.84 L331.80,302.57 L332.00,303.25 L332.20,303.89 L332.40,304.47 L332.60,304.99 L332.80,305.42 L333.00,305.70 Z" fill="#fff" stroke="#fff" stroke-width="3.5" stroke-linejoin="round"/>
<path d="M351.00,305.70 L351.19,305.27 L351.39,304.59 L351.58,303.79 L351.77,302.88 L351.97,301.89 L352.16,300.82 L352.35,299.70 L352.55,298.51 L352.74,297.27 L352.93,295.98 L353.13,294.65 L353.32,293.27 L353.51,291.85 L353.71,290.39 L353.90,288.90 L354.09,290.39 L354.29,291.85 L354.48,293.27 L354.67,294.65 L354.87,295.98 L355.06,297.27 L355.25,298.51 L355.45,299.70 L355.64,300.82 L355.83,301.89 L356.03,302.88 L356.22,303.79 L356.41,304.59 L356.61,305.27 L356.80,305.70 Z" fill="#fff" stroke="#fff" stroke-width="3.5" stroke-linejoin="round"/>
<path d="M375.30,305.70 L375.53,304.72 L375.77,303.20 L376.00,301.37 L376.23,299.32 L376.47,297.08 L376.70,294.67 L376.93,292.12 L377.17,289.44 L377.40,286.63 L377.63,283.72 L377.87,280.70 L378.10,277.58 L378.33,274.38 L378.57,271.08 L378.80,267.70 L379.03,271.08 L379.27,274.38 L379.50,277.58 L379.73,280.70 L379.97,283.72 L380.20,286.63 L380.43,289.44 L380.67,292.12 L380.90,294.67 L381.13,297.08 L381.37,299.32 L381.60,301.37 L381.83,303.20 L382.07,304.72 L382.30,305.70 Z" fill="#fff" stroke="#fff" stroke-width="3.5" stroke-linejoin="round"/>
<line x1="215.80" y1="305.7" x2="430.02" y2="305.7" stroke="#000" stroke-width="1.45"/>
<line x1="240.00" y1="305.59999999999997" x2="286.00" y2="305.59999999999997" stroke="#6a1fd6" stroke-width="1.35"/>
<line x1="370.00" y1="305.59999999999997" x2="388.00" y2="305.59999999999997" stroke="#1b6e2e" stroke-width="1.35"/>
<path d="M274.00,305.70 L274.23,305.08 L274.45,304.13 L274.68,302.98 L274.91,301.69 L275.13,300.28 L275.36,298.76 L275.59,297.16 L275.81,295.47 L276.04,293.71 L276.27,291.87 L276.49,289.98 L276.72,288.02 L276.95,286.00 L277.17,283.93 L277.40,281.80 L277.63,283.93 L277.85,286.00 L278.08,288.02 L278.31,289.98 L278.53,291.87 L278.76,293.71 L278.99,295.47 L279.21,297.16 L279.44,298.76 L279.67,300.28 L279.89,301.69 L280.12,302.98 L280.35,304.13 L280.57,305.08 L280.80,305.70" fill="none" stroke="#6a1fd6" stroke-width="1.35" stroke-linejoin="round"/>
<path d="M299.30,305.70 L299.61,305.08 L299.91,304.13 L300.22,302.98 L300.53,301.69 L300.83,300.28 L301.14,298.76 L301.45,297.16 L301.75,295.47 L302.06,293.71 L302.37,291.87 L302.67,289.98 L302.98,288.02 L303.29,286.00 L303.59,283.93 L303.90,281.80 L304.21,283.93 L304.51,286.00 L304.82,288.02 L305.13,289.98 L305.43,291.87 L305.74,293.71 L306.05,295.47 L306.35,297.16 L306.66,298.76 L306.97,300.28 L307.27,301.69 L307.58,302.98 L307.89,304.13 L308.19,305.08 L308.50,305.70" fill="none" stroke="#1b6e2e" stroke-width="1.35" stroke-linejoin="round"/>
<path d="M327.00,305.70 L327.20,305.42 L327.40,304.99 L327.60,304.47 L327.80,303.89 L328.00,303.25 L328.20,302.57 L328.40,301.84 L328.60,301.08 L328.80,300.28 L329.00,299.45 L329.20,298.59 L329.40,297.71 L329.60,296.80 L329.80,295.86 L330.00,294.90 L330.20,295.86 L330.40,296.80 L330.60,297.71 L330.80,298.59 L331.00,299.45 L331.20,300.28 L331.40,301.08 L331.60,301.84 L331.80,302.57 L332.00,303.25 L332.20,303.89 L332.40,304.47 L332.60,304.99 L332.80,305.42 L333.00,305.70" fill="none" stroke="#1b6e2e" stroke-width="1.35" stroke-linejoin="round"/>
<path d="M351.00,305.70 L351.19,305.27 L351.39,304.59 L351.58,303.79 L351.77,302.88 L351.97,301.89 L352.16,300.82 L352.35,299.70 L352.55,298.51 L352.74,297.27 L352.93,295.98 L353.13,294.65 L353.32,293.27 L353.51,291.85 L353.71,290.39 L353.90,288.90 L354.09,290.39 L354.29,291.85 L354.48,293.27 L354.67,294.65 L354.87,295.98 L355.06,297.27 L355.25,298.51 L355.45,299.70 L355.64,300.82 L355.83,301.89 L356.03,302.88 L356.22,303.79 L356.41,304.59 L356.61,305.27 L356.80,305.70" fill="none" stroke="#1a1ae0" stroke-width="1.35" stroke-linejoin="round"/>
<path d="M375.30,305.70 L375.53,304.72 L375.77,303.20 L376.00,301.37 L376.23,299.32 L376.47,297.08 L376.70,294.67 L376.93,292.12 L377.17,289.44 L377.40,286.63 L377.63,283.72 L377.87,280.70 L378.10,277.58 L378.33,274.38 L378.57,271.08 L378.80,267.70 L379.03,271.08 L379.27,274.38 L379.50,277.58 L379.73,280.70 L379.97,283.72 L380.20,286.63 L380.43,289.44 L380.67,292.12 L380.90,294.67 L381.13,297.08 L381.37,299.32 L381.60,301.37 L381.83,303.20 L382.07,304.72 L382.30,305.70" fill="none" stroke="#1b6e2e" stroke-width="1.35" stroke-linejoin="round"/>
<text x="277.8" y="278.6" font-size="12.8" fill="#6a1fd6" text-anchor="middle" style="font-family:'Liberation Sans',Arial,sans-serif;font-weight:bold">S</text>
<text x="354.0" y="284.1" font-size="12.8" fill="#1a1ae0" text-anchor="middle" style="font-family:'Liberation Sans',Arial,sans-serif;font-weight:bold">T</text>
<path d="M347.10,379.50 L347.32,378.87 L347.54,377.91 L347.76,376.74 L347.98,375.44 L348.20,374.01 L348.42,372.48 L348.64,370.85 L348.86,369.14 L349.08,367.36 L349.30,365.50 L349.52,363.58 L349.74,361.59 L349.96,359.55 L350.18,357.45 L350.40,355.30 L350.62,357.45 L350.84,359.55 L351.06,361.59 L351.28,363.58 L351.50,365.50 L351.72,367.36 L351.94,369.14 L352.16,370.85 L352.38,372.48 L352.60,374.01 L352.82,375.44 L353.04,376.74 L353.26,377.91 L353.48,378.87 L353.70,379.50 Z" fill="#fff" stroke="#fff" stroke-width="3.5" stroke-linejoin="round"/>
<path d="M372.60,379.50 L372.89,378.88 L373.17,377.93 L373.46,376.78 L373.75,375.49 L374.03,374.08 L374.32,372.56 L374.61,370.96 L374.89,369.27 L375.18,367.51 L375.47,365.67 L375.75,363.78 L376.04,361.82 L376.33,359.80 L376.61,357.73 L376.90,355.60 L377.19,357.73 L377.47,359.80 L377.76,361.82 L378.05,363.78 L378.33,365.67 L378.62,367.51 L378.91,369.27 L379.19,370.96 L379.48,372.56 L379.77,374.08 L380.05,375.49 L380.34,376.78 L380.63,377.93 L380.91,378.88 L381.20,379.50 Z" fill="#fff" stroke="#fff" stroke-width="3.5" stroke-linejoin="round"/>
<path d="M400.20,379.50 L400.40,379.23 L400.60,378.80 L400.80,378.29 L401.00,377.72 L401.20,377.09 L401.40,376.42 L401.60,375.71 L401.80,374.96 L402.00,374.18 L402.20,373.37 L402.40,372.53 L402.60,371.66 L402.80,370.76 L403.00,369.84 L403.20,368.90 L403.40,369.84 L403.60,370.76 L403.80,371.66 L404.00,372.53 L404.20,373.37 L404.40,374.18 L404.60,374.96 L404.80,375.71 L405.00,376.42 L405.20,377.09 L405.40,377.72 L405.60,378.29 L405.80,378.80 L406.00,379.23 L406.20,379.50 Z" fill="#fff" stroke="#fff" stroke-width="3.5" stroke-linejoin="round"/>
<path d="M449.30,379.50 L449.51,378.53 L449.71,377.02 L449.92,375.21 L450.13,373.17 L450.33,370.94 L450.54,368.56 L450.75,366.03 L450.95,363.36 L451.16,360.58 L451.37,357.69 L451.57,354.70 L451.78,351.61 L451.99,348.42 L452.19,345.15 L452.40,341.80 L452.61,345.15 L452.81,348.42 L453.02,351.61 L453.23,354.70 L453.43,357.69 L453.64,360.58 L453.85,363.36 L454.05,366.03 L454.26,368.56 L454.47,370.94 L454.67,373.17 L454.88,375.21 L455.09,377.02 L455.29,378.53 L455.50,379.50 Z" fill="#fff" stroke="#fff" stroke-width="3.5" stroke-linejoin="round"/>
<line x1="288.74" y1="379.5" x2="503.47" y2="379.5" stroke="#000" stroke-width="1.45"/>
<line x1="313.00" y1="379.4" x2="357.00" y2="379.4" stroke="#6a1fd6" stroke-width="1.35"/>
<line x1="419.00" y1="379.4" x2="437.00" y2="379.4" stroke="#1a1ae0" stroke-width="1.35"/>
<line x1="444.00" y1="379.4" x2="461.00" y2="379.4" stroke="#1b6e2e" stroke-width="1.35"/>
<path d="M347.10,379.50 L347.32,378.87 L347.54,377.91 L347.76,376.74 L347.98,375.44 L348.20,374.01 L348.42,372.48 L348.64,370.85 L348.86,369.14 L349.08,367.36 L349.30,365.50 L349.52,363.58 L349.74,361.59 L349.96,359.55 L350.18,357.45 L350.40,355.30 L350.62,357.45 L350.84,359.55 L351.06,361.59 L351.28,363.58 L351.50,365.50 L351.72,367.36 L351.94,369.14 L352.16,370.85 L352.38,372.48 L352.60,374.01 L352.82,375.44 L353.04,376.74 L353.26,377.91 L353.48,378.87 L353.70,379.50" fill="none" stroke="#6a1fd6" stroke-width="1.35" stroke-linejoin="round"/>
<path d="M372.60,379.50 L372.89,378.88 L373.17,377.93 L373.46,376.78 L373.75,375.49 L374.03,374.08 L374.32,372.56 L374.61,370.96 L374.89,369.27 L375.18,367.51 L375.47,365.67 L375.75,363.78 L376.04,361.82 L376.33,359.80 L376.61,357.73 L376.90,355.60 L377.19,357.73 L377.47,359.80 L377.76,361.82 L378.05,363.78 L378.33,365.67 L378.62,367.51 L378.91,369.27 L379.19,370.96 L379.48,372.56 L379.77,374.08 L380.05,375.49 L380.34,376.78 L380.63,377.93 L380.91,378.88 L381.20,379.50" fill="none" stroke="#1b6e2e" stroke-width="1.35" stroke-linejoin="round"/>
<path d="M400.20,379.50 L400.40,379.23 L400.60,378.80 L400.80,378.29 L401.00,377.72 L401.20,377.09 L401.40,376.42 L401.60,375.71 L401.80,374.96 L402.00,374.18 L402.20,373.37 L402.40,372.53 L402.60,371.66 L402.80,370.76 L403.00,369.84 L403.20,368.90 L403.40,369.84 L403.60,370.76 L403.80,371.66 L404.00,372.53 L404.20,373.37 L404.40,374.18 L404.60,374.96 L404.80,375.71 L405.00,376.42 L405.20,377.09 L405.40,377.72 L405.60,378.29 L405.80,378.80 L406.00,379.23 L406.20,379.50" fill="none" stroke="#1b6e2e" stroke-width="1.35" stroke-linejoin="round"/>
<path d="M449.30,379.50 L449.51,378.53 L449.71,377.02 L449.92,375.21 L450.13,373.17 L450.33,370.94 L450.54,368.56 L450.75,366.03 L450.95,363.36 L451.16,360.58 L451.37,357.69 L451.57,354.70 L451.78,351.61 L451.99,348.42 L452.19,345.15 L452.40,341.80 L452.61,345.15 L452.81,348.42 L453.02,351.61 L453.23,354.70 L453.43,357.69 L453.64,360.58 L453.85,363.36 L454.05,366.03 L454.26,368.56 L454.47,370.94 L454.67,373.17 L454.88,375.21 L455.09,377.02 L455.29,378.53 L455.50,379.50" fill="none" stroke="#1b6e2e" stroke-width="1.35" stroke-linejoin="round"/>
<path d="M422.70,379.50 L423.10,379.00 L423.50,378.50 L423.90,378.00 L424.04,377.50 L424.18,377.00 L424.32,376.50 L424.46,376.00 L424.60,375.50 L424.61,375.00 L424.62,374.50 L424.64,374.00 L424.65,373.50 L424.66,373.00 L424.68,372.50 L424.69,372.00 L424.70,371.50 L424.71,371.00 L424.73,370.50 L424.74,370.00 L424.75,369.50 L424.76,369.00 L424.78,368.50 L424.79,368.00 L424.80,367.50 L424.81,367.00 L424.82,366.50 L424.84,366.00 L424.85,365.50 L424.86,365.00 L424.88,364.50 L424.89,364.00 L424.90,363.50 L424.91,363.00 L424.93,362.50 L424.94,362.00 L424.95,361.50 L424.96,361.00 L424.98,360.50 L424.99,360.00 L425.00,359.50 L425.03,359.00 L425.05,358.50 L425.07,358.00 L425.10,357.50 L425.12,357.00 L425.15,356.50 L425.18,356.00 L425.20,355.50 L425.23,355.00 L425.25,354.50 L425.28,354.00 L425.30,353.50 L425.32,353.00 L425.35,352.50 L425.38,352.00 L425.40,351.50 L425.43,351.00 L425.45,350.50 L425.48,350.00 L425.50,349.50 L425.53,349.00 L425.55,348.50 L425.57,348.00 L425.60,347.50 L425.63,347.00 L425.67,346.50 L425.70,346.00 L425.74,345.50 L425.78,345.00 L425.81,344.50 L425.85,344.00 L425.88,343.50 L425.92,343.00 L425.95,342.50 L425.99,342.00 L426.02,341.50 L426.06,341.00 L426.09,340.50 L426.12,340.00 L426.16,339.50 L426.19,339.00 L426.23,338.50 L426.26,338.00 L426.30,337.50 L426.33,337.00 L426.36,336.50 L426.39,336.00 L426.43,335.50 L426.46,335.00 L426.49,334.50 L426.52,334.00 L426.55,333.50 L426.58,333.00 L426.61,332.50 L426.64,332.00 L426.68,331.50 L426.71,331.00 L426.74,330.50 L426.77,330.00 L426.80,329.50 L426.82,329.00 L426.84,328.50 L426.86,328.00 L426.88,327.50 L426.90,327.00 L426.92,326.50 L426.94,326.00 L426.96,325.50 L426.98,325.00 L427.00,324.50 L427.02,324.00 L427.04,323.50 L427.06,323.00 L427.08,322.50 L427.10,322.10 L427.50,322.10 L427.52,322.50 L427.54,323.00 L427.56,323.50 L427.58,324.00 L427.60,324.50 L427.62,325.00 L427.64,325.50 L427.66,326.00 L427.68,326.50 L427.70,327.00 L427.72,327.50 L427.74,328.00 L427.76,328.50 L427.78,329.00 L427.80,329.50 L427.83,330.00 L427.86,330.50 L427.89,331.00 L427.93,331.50 L427.96,332.00 L427.99,332.50 L428.02,333.00 L428.05,333.50 L428.08,334.00 L428.11,334.50 L428.14,335.00 L428.18,335.50 L428.21,336.00 L428.24,336.50 L428.27,337.00 L428.30,337.50 L428.34,338.00 L428.37,338.50 L428.41,339.00 L428.44,339.50 L428.48,340.00 L428.51,340.50 L428.55,341.00 L428.58,341.50 L428.62,342.00 L428.65,342.50 L428.69,343.00 L428.72,343.50 L428.75,344.00 L428.79,344.50 L428.82,345.00 L428.86,345.50 L428.90,346.00 L428.93,346.50 L428.97,347.00 L429.00,347.50 L429.03,348.00 L429.05,348.50 L429.07,349.00 L429.10,349.50 L429.12,350.00 L429.15,350.50 L429.18,351.00 L429.20,351.50 L429.23,352.00 L429.25,352.50 L429.28,353.00 L429.30,353.50 L429.32,354.00 L429.35,354.50 L429.38,355.00 L429.40,355.50 L429.43,356.00 L429.45,356.50 L429.48,357.00 L429.50,357.50 L429.53,358.00 L429.55,358.50 L429.57,359.00 L429.60,359.50 L429.61,360.00 L429.62,360.50 L429.64,361.00 L429.65,361.50 L429.66,362.00 L429.68,362.50 L429.69,363.00 L429.70,363.50 L429.71,364.00 L429.73,364.50 L429.74,365.00 L429.75,365.50 L429.76,366.00 L429.78,366.50 L429.79,367.00 L429.80,367.50 L429.81,368.00 L429.82,368.50 L429.84,369.00 L429.85,369.50 L429.86,370.00 L429.88,370.50 L429.89,371.00 L429.90,371.50 L429.91,372.00 L429.93,372.50 L429.94,373.00 L429.95,373.50 L429.96,374.00 L429.98,374.50 L429.99,375.00 L430.00,375.50 L430.14,376.00 L430.28,376.50 L430.42,377.00 L430.56,377.50 L430.70,378.00 L431.10,378.50 L431.50,379.00 L431.90,379.50 Z" fill="#a7aee0" stroke="none"/>
<circle cx="427.30" cy="321.90" r="0.8" fill="#2232d0"/>
<circle cx="427.30" cy="325.20" r="0.8" fill="#2232d0"/>
<circle cx="427.30" cy="328.50" r="0.8" fill="#2232d0"/>
<circle cx="427.30" cy="331.80" r="0.8" fill="#2232d0"/>
<circle cx="427.30" cy="335.10" r="0.8" fill="#2232d0"/>
<circle cx="427.30" cy="338.40" r="0.8" fill="#2232d0"/>
<circle cx="426.31" cy="341.70" r="0.8" fill="#2232d0"/>
<circle cx="428.29" cy="341.70" r="0.8" fill="#2232d0"/>
<circle cx="426.08" cy="345.00" r="0.8" fill="#2232d0"/>
<circle cx="428.52" cy="345.00" r="0.8" fill="#2232d0"/>
<circle cx="425.86" cy="348.30" r="0.8" fill="#2232d0"/>
<circle cx="428.74" cy="348.30" r="0.8" fill="#2232d0"/>
<circle cx="425.70" cy="351.60" r="0.8" fill="#2232d0"/>
<circle cx="428.90" cy="351.60" r="0.8" fill="#2232d0"/>
<circle cx="425.53" cy="354.90" r="0.8" fill="#2232d0"/>
<circle cx="429.07" cy="354.90" r="0.8" fill="#2232d0"/>
<circle cx="425.37" cy="358.20" r="0.8" fill="#2232d0"/>
<circle cx="429.24" cy="358.20" r="0.8" fill="#2232d0"/>
<circle cx="427.30" cy="359.80" r="0.8" fill="#2232d0"/>
<circle cx="425.25" cy="361.50" r="0.8" fill="#2232d0"/>
<circle cx="429.35" cy="361.50" r="0.8" fill="#2232d0"/>
<circle cx="427.30" cy="363.10" r="0.8" fill="#2232d0"/>
<circle cx="425.17" cy="364.80" r="0.8" fill="#2232d0"/>
<circle cx="429.43" cy="364.80" r="0.8" fill="#2232d0"/>
<circle cx="427.30" cy="366.40" r="0.8" fill="#2232d0"/>
<circle cx="425.09" cy="368.10" r="0.8" fill="#2232d0"/>
<circle cx="429.51" cy="368.10" r="0.8" fill="#2232d0"/>
<circle cx="427.30" cy="369.70" r="0.8" fill="#2232d0"/>
<circle cx="425.00" cy="371.40" r="0.8" fill="#2232d0"/>
<circle cx="429.60" cy="371.40" r="0.8" fill="#2232d0"/>
<circle cx="427.30" cy="373.00" r="0.8" fill="#2232d0"/>
<circle cx="424.92" cy="374.70" r="0.8" fill="#2232d0"/>
<circle cx="429.68" cy="374.70" r="0.8" fill="#2232d0"/>
<circle cx="427.30" cy="376.30" r="0.8" fill="#2232d0"/>
<circle cx="424.20" cy="378.00" r="0.8" fill="#2232d0"/>
<circle cx="430.40" cy="378.00" r="0.8" fill="#2232d0"/>
<circle cx="427.30" cy="379.60" r="0.8" fill="#2232d0"/>
<text x="426.7" y="319" font-size="14" fill="#1a1ae0" text-anchor="middle" style="font-family:'Liberation Sans',Arial,sans-serif;font-weight:bold">T</text>
<line x1="317.50" y1="408.6" x2="532.44" y2="408.6" stroke="#000" stroke-width="1.45"/>
<line x1="343.00" y1="408.5" x2="387.00" y2="408.5" stroke="#6a1fd6" stroke-width="1.35"/>
<line x1="387.00" y1="408.5" x2="485.00" y2="408.5" stroke="#245a2c" stroke-width="1.35"/>
<line x1="449.00" y1="408.5" x2="462.00" y2="408.5" stroke="#1a1ae0" stroke-width="1.35"/>
<path d="M401.80,408.60 L402.09,407.97 L402.37,407.00 L402.66,405.83 L402.95,404.52 L403.23,403.09 L403.52,401.55 L403.81,399.92 L404.09,398.20 L404.38,396.41 L404.67,394.54 L404.95,392.61 L405.24,390.62 L405.53,388.57 L405.81,386.46 L406.10,384.30 L406.39,386.46 L406.67,388.57 L406.96,390.62 L407.25,392.61 L407.53,394.54 L407.82,396.41 L408.11,398.20 L408.39,399.92 L408.68,401.55 L408.97,403.09 L409.25,404.52 L409.54,405.83 L409.83,407.00 L410.11,407.97 L410.40,408.60" fill="none" stroke="#1b6e2e" stroke-width="1.35" stroke-linejoin="round"/>
<path d="M428.80,408.60 L429.01,408.34 L429.23,407.93 L429.44,407.44 L429.65,406.89 L429.87,406.29 L430.08,405.64 L430.29,404.95 L430.51,404.23 L430.72,403.48 L430.93,402.70 L431.15,401.89 L431.36,401.05 L431.57,400.19 L431.79,399.31 L432.00,398.40 L432.21,399.31 L432.43,400.19 L432.64,401.05 L432.85,401.89 L433.07,402.70 L433.28,403.48 L433.49,404.23 L433.71,404.95 L433.92,405.64 L434.13,406.29 L434.35,406.89 L434.56,407.44 L434.77,407.93 L434.99,408.34 L435.20,408.60" fill="none" stroke="#1b6e2e" stroke-width="1.35" stroke-linejoin="round"/>
<path d="M453.10,408.60 L453.32,408.16 L453.54,407.49 L453.76,406.68 L453.98,405.76 L454.20,404.76 L454.42,403.69 L454.64,402.56 L454.86,401.37 L455.08,400.12 L455.30,398.82 L455.52,397.48 L455.74,396.10 L455.96,394.67 L456.18,393.20 L456.40,391.70 L456.62,393.20 L456.84,394.67 L457.06,396.10 L457.28,397.48 L457.50,398.82 L457.72,400.12 L457.94,401.37 L458.16,402.56 L458.38,403.69 L458.60,404.76 L458.82,405.76 L459.04,406.68 L459.26,407.49 L459.48,408.16 L459.70,408.60" fill="none" stroke="#1a1ae0" stroke-width="1.35" stroke-linejoin="round"/>
<path d="M477.90,408.60 L478.11,407.64 L478.31,406.14 L478.52,404.35 L478.73,402.34 L478.93,400.14 L479.14,397.77 L479.35,395.27 L479.55,392.64 L479.76,389.88 L479.97,387.02 L480.17,384.06 L480.38,381.00 L480.59,377.85 L480.79,374.62 L481.00,371.30 L481.21,374.62 L481.41,377.85 L481.62,381.00 L481.83,384.06 L482.03,387.02 L482.24,389.88 L482.45,392.64 L482.65,395.27 L482.86,397.77 L483.07,400.14 L483.27,402.34 L483.48,404.35 L483.69,406.14 L483.89,407.64 L484.10,408.60" fill="none" stroke="#1b6e2e" stroke-width="1.35" stroke-linejoin="round"/>
<path d="M367.31,408.60 L368.82,408.00 L370.10,407.40 L370.47,406.80 L371.78,406.20 L372.19,405.60 L372.80,405.00 L373.16,404.40 L373.55,403.80 L373.89,403.20 L374.02,402.60 L373.87,402.00 L373.75,401.40 L374.14,400.80 L374.30,400.20 L374.48,399.60 L374.47,399.00 L374.49,398.40 L374.50,397.80 L375.16,397.20 L374.73,396.60 L375.21,396.00 L374.87,395.40 L375.35,394.80 L375.17,394.20 L375.23,393.60 L375.13,393.00 L375.20,392.40 L375.63,391.80 L375.86,391.20 L375.43,390.60 L375.43,390.00 L375.73,389.40 L376.15,388.80 L376.01,388.20 L376.26,387.60 L375.86,387.00 L376.43,386.40 L376.46,385.80 L375.98,385.20 L376.07,384.60 L376.25,384.00 L376.28,383.40 L376.67,382.80 L376.83,382.20 L376.27,381.60 L376.58,381.00 L376.61,380.40 L376.67,379.80 L376.94,379.20 L377.02,378.60 L376.85,378.00 L377.18,377.40 L376.99,376.80 L376.72,376.20 L376.70,375.60 L376.86,375.00 L377.00,374.40 L377.38,373.80 L377.11,373.20 L377.04,372.60 L377.12,372.00 L377.15,371.40 L377.04,370.80 L377.18,370.20 L377.13,369.60 L377.63,369.00 L377.79,368.40 L377.35,367.80 L377.52,367.20 L377.78,366.60 L377.29,366.00 L377.60,365.40 L377.55,364.80 L378.08,364.20 L377.60,363.60 L377.68,363.00 L377.79,362.40 L377.73,361.80 L378.23,361.20 L378.12,360.60 L378.05,360.00 L378.01,359.40 L378.33,358.80 L378.34,358.20 L378.08,357.60 L378.52,357.00 L378.07,356.40 L378.18,355.80 L378.20,355.20 L378.34,354.60 L378.84,354.00 L378.24,353.40 L378.55,352.80 L378.52,352.60 L379.21,352.60 L379.74,352.80 L379.92,353.40 L379.38,354.00 L379.50,354.60 L379.55,355.20 L379.62,355.80 L379.55,356.40 L379.77,357.00 L380.22,357.60 L380.14,358.20 L380.26,358.80 L380.27,359.40 L380.36,360.00 L380.53,360.60 L380.59,361.20 L380.08,361.80 L380.32,362.40 L380.21,363.00 L380.11,363.60 L380.55,364.20 L380.63,364.80 L380.34,365.40 L380.60,366.00 L380.58,366.60 L380.41,367.20 L380.53,367.80 L380.62,368.40 L380.91,369.00 L380.76,369.60 L380.68,370.20 L380.78,370.80 L381.14,371.40 L381.23,372.00 L380.90,372.60 L381.21,373.20 L380.95,373.80 L381.28,374.40 L380.90,375.00 L380.92,375.60 L381.33,376.20 L381.47,376.80 L381.11,377.40 L381.18,378.00 L381.16,378.60 L381.69,379.20 L381.34,379.80 L381.25,380.40 L381.90,381.00 L381.80,381.60 L381.46,382.20 L381.93,382.80 L381.74,383.40 L382.12,384.00 L382.00,384.60 L382.25,385.20 L382.02,385.80 L382.42,386.40 L382.11,387.00 L382.44,387.60 L382.18,388.20 L382.66,388.80 L382.35,389.40 L382.65,390.00 L382.47,390.60 L382.72,391.20 L382.81,391.80 L382.84,392.40 L382.53,393.00 L383.05,393.60 L383.19,394.20 L382.64,394.80 L382.79,395.40 L383.07,396.00 L382.94,396.60 L383.47,397.20 L383.43,397.80 L383.78,398.40 L383.69,399.00 L383.49,399.60 L384.04,400.20 L384.19,400.80 L384.47,401.40 L383.99,402.00 L384.38,402.60 L384.55,403.20 L384.75,403.80 L385.56,404.40 L385.72,405.00 L386.36,405.60 L386.54,406.20 L387.16,406.80 L388.62,407.40 L389.32,408.00 L390.87,408.60 Z" fill="#6412d0" stroke="#6412d0" stroke-width="0.6" stroke-linejoin="round"/>
<line x1="379.1" y1="352.60" x2="379.1" y2="346.8" stroke="#6412d0" stroke-width="1.2" stroke-dasharray="1.6 1.2"/>
<text x="379.3" y="342" font-size="14" fill="#5a14c8" text-anchor="middle" style="font-family:'Liberation Sans',Arial,sans-serif;font-weight:bold">S</text>
<line x1="430.02" y1="305.70" x2="430.02" y2="302.70" stroke="#000" stroke-width="1.1"/>
<text x="431.8" y="300.4" font-size="12.4" fill="#000" text-anchor="start" style="font-family:'Liberation Sans',Arial,sans-serif;font-weight:bold">800</text>
<line x1="447.64" y1="323.40" x2="447.64" y2="320.40" stroke="#000" stroke-width="1.1"/>
<text x="449.7" y="318.6" font-size="12.4" fill="#000" text-anchor="start" style="font-family:'Liberation Sans',Arial,sans-serif;font-weight:bold">700</text>
<line x1="466.35" y1="342.20" x2="466.35" y2="339.20" stroke="#000" stroke-width="1.1"/>
<text x="468.2" y="336.9" font-size="12.4" fill="#000" text-anchor="start" style="font-family:'Liberation Sans',Arial,sans-serif;font-weight:bold">600</text>
<line x1="487.05" y1="363.00" x2="487.05" y2="360.00" stroke="#000" stroke-width="1.1"/>
<text x="489.0" y="358.4" font-size="12.4" fill="#000" text-anchor="start" style="font-family:'Liberation Sans',Arial,sans-serif;font-weight:bold">500</text>
<line x1="503.67" y1="379.70" x2="503.67" y2="376.70" stroke="#000" stroke-width="1.1"/>
<text x="506.0" y="375.8" font-size="12.4" fill="#000" text-anchor="start" style="font-family:'Liberation Sans',Arial,sans-serif;font-weight:bold">400</text>
<line x1="524.27" y1="400.40" x2="524.27" y2="397.40" stroke="#000" stroke-width="1.1"/>
<text x="526.9" y="395.9" font-size="12.4" fill="#000" text-anchor="start" style="font-family:'Liberation Sans',Arial,sans-serif;font-weight:bold">300</text>
<text x="543.0" y="413.8" font-size="12.4" fill="#000" text-anchor="start" style="font-family:'Liberation Sans',Arial,sans-serif;font-weight:bold">200</text>
<text transform="matrix(0.68,0.70,-0.98,0.1,469,296)" font-size="14.6" stroke="#000" stroke-width="0.4" style="font-family:'Liberation Sans',Arial,sans-serif;font-weight:bold">Excitation line / nm</text>
<text x="421.1" y="272.8" font-size="14.4" fill="#000" text-anchor="start" style="font-family:'Liberation Sans',Arial,sans-serif;font-weight:bold">Intensity / a.u.</text>
<text x="384.1" y="443.0" font-size="14.5" style="font-family:'Liberation Sans',Arial,sans-serif;font-weight:bold">Raman shift / cm<tspan font-size="9" dy="-6">-1</tspan></text></svg>
</body></html>
